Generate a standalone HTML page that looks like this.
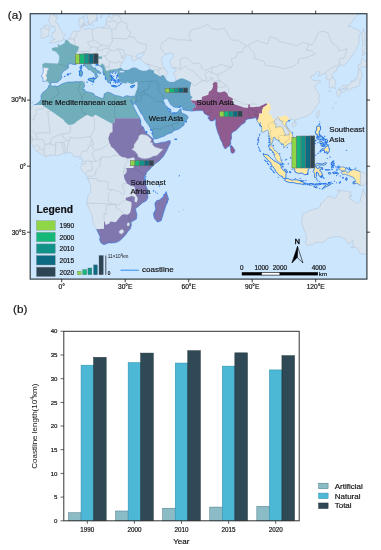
<!DOCTYPE html>
<html><head><meta charset="utf-8"><title>Coastline figure</title>
<style>html,body{margin:0;padding:0;background:#fff}svg{display:block}text{font-family:"Liberation Sans",Arial,sans-serif;fill:#111}</style></head><body>
<svg width="381" height="550" viewBox="0 0 381 550">
<rect width="381" height="550" fill="#fff"/>
<defs>
<clipPath id="fc"><rect x="30.2" y="13.7" width="336.7" height="265.40000000000003"/></clipPath>
<clipPath id="mc"><path clip-rule="evenodd" d="M72.3 -4.8L72.3 6.3L73.6 10.8L76.5 14.5L79.7 13.3L82.4 10.4L84.1 7.9L85.4 10.8L86.7 15.7L88.4 21.1L89.0 24.5L92.0 24.1L92.2 21.9L95.6 21.1L96.8 16.1L97.5 12.1L101.1 7.9L101.9 2.0L111.0 2.0L111.2 9.6L111.7 12.1L113.4 13.3L113.1 17.2L110.8 18.4L109.5 15.7L107.6 16.5L106.2 19.6L106.4 24.5L104.0 26.4L103.2 28.2L101.3 28.2L100.4 26.7L96.6 27.8L92.0 30.0L90.3 27.8L87.7 28.9L85.0 29.6L82.9 27.8L82.2 25.3L83.5 22.6L84.6 20.7L83.5 18.4L84.1 15.7L82.0 18.0L79.1 18.4L78.8 23.8L79.9 26.4L80.5 29.3L79.7 31.1L76.7 31.1L73.1 31.8L71.6 33.5L70.4 36.7L68.9 38.7L67.0 39.7L65.1 40.4L64.9 42.7L62.1 44.7L59.2 45.7L58.7 44.4L57.7 44.4L58.3 47.6L55.3 47.3L51.8 48.6L52.6 50.5L56.2 51.7L57.5 53.6L59.4 55.8L59.2 60.3L58.1 63.8L53.7 63.5L49.4 63.2L44.8 62.9L42.2 64.7L43.1 68.4L43.3 72.1L41.8 75.4L41.6 77.0L43.1 77.8L42.9 81.6L46.0 81.0L48.2 82.1L49.8 84.2L52.4 82.4L57.0 82.4L60.2 80.0L62.1 77.0L61.1 74.8L63.4 71.2L68.5 68.1L68.3 66.7L68.1 64.7L70.2 63.5L73.1 64.4L75.9 64.7L77.6 62.6L80.3 60.9L83.1 62.4L83.9 65.3L86.3 67.0L88.4 69.5L90.9 70.1L92.0 71.5L94.7 73.5L95.4 76.2L95.8 77.6L94.8 79.0L95.8 79.0L96.8 77.8L98.1 76.2L96.6 74.3L97.7 72.1L99.8 73.9L100.9 73.2L99.6 71.5L95.6 69.3L95.8 68.1L93.9 68.1L91.8 66.4L90.5 63.5L88.0 61.5L87.7 58.2L89.4 57.0L90.9 57.3L90.5 59.1L92.4 58.2L93.7 61.2L95.6 63.5L98.7 65.3L100.9 66.7L102.8 68.1L103.0 71.2L102.8 72.6L104.0 74.3L105.5 76.5L106.4 78.1L107.0 80.0L107.6 82.1L109.1 83.0L110.0 82.4L110.6 82.9L110.0 80.2L110.8 80.0L112.5 79.7L112.5 78.4L110.4 76.5L109.5 75.4L111.0 75.7L109.5 72.1L111.2 72.6L112.3 73.5L113.4 72.9L112.5 71.5L115.0 71.0L116.7 71.5L118.2 72.1L117.2 73.3L117.0 74.8L118.6 77.6L119.3 80.5L119.7 82.1L121.6 82.4L123.3 82.9L126.3 83.4L127.1 82.1L129.4 82.9L131.6 83.9L133.7 83.4L135.4 82.1L137.9 82.1L137.5 83.4L137.7 86.0L137.1 89.4L136.0 91.9L134.7 95.7L134.1 96.2L130.1 96.4L127.3 95.7L125.2 96.2L123.1 97.4L119.5 96.2L115.0 95.4L110.6 92.9L107.4 92.2L104.3 93.9L103.8 97.4L101.9 98.6L98.7 97.2L94.7 95.7L93.9 93.7L90.3 92.4L86.0 91.7L84.8 90.4L83.1 88.6L84.8 86.0L83.9 83.7L85.0 81.6L82.9 80.8L79.9 81.8L76.5 81.6L72.3 82.1L68.1 82.1L63.8 83.2L60.6 84.7L57.5 86.6L55.3 86.0L52.2 86.3L50.5 84.7L49.2 84.7L47.9 88.1L45.6 90.4L42.6 92.7L41.0 95.7L41.2 99.4L39.5 101.8L36.3 104.2L33.8 104.9L31.0 108.5L27.8 114.1L25.7 119.4L26.8 123.9L27.6 127.2L26.8 131.2L24.7 134.5L26.3 138.2L26.1 139.5L28.9 141.5L32.1 144.7L33.5 146.9L35.2 150.1L37.4 151.4L41.6 154.3L45.6 156.7L50.1 155.2L55.3 155.2L57.5 156.0L61.7 154.1L64.2 153.3L67.0 152.6L71.2 152.6L73.3 155.6L75.5 156.9L79.3 156.5L80.5 156.5L81.8 157.9L82.4 161.1L81.8 163.9L81.4 166.0L80.3 167.7L81.8 170.2L85.0 174.1L86.7 175.7L87.5 178.3L88.8 180.9L90.1 184.1L90.9 188.4L90.3 192.7L88.2 194.8L87.1 199.2L86.7 203.0L88.2 207.0L90.3 211.5L92.4 215.6L92.4 219.5L93.5 224.2L96.4 229.2L98.1 232.6L100.2 237.1L99.6 239.6L100.7 242.6L101.9 243.6L104.0 244.7L108.3 242.9L112.5 242.9L116.1 242.6L119.9 240.6L123.1 237.6L126.3 233.9L127.8 231.4L130.1 229.2L131.3 225.4L131.3 223.0L130.7 221.9L132.6 221.2L136.4 219.1L136.9 214.2L135.8 210.4L135.4 208.8L139.0 205.9L142.1 203.0L146.0 201.0L147.9 198.1L147.7 193.8L147.4 189.0L146.4 187.3L145.3 184.1L145.1 180.9L143.8 178.7L144.7 176.2L146.0 174.5L146.8 171.9L149.6 169.6L151.7 167.1L154.8 163.9L159.1 160.9L163.3 156.5L166.5 151.1L168.6 146.4L170.1 143.6L170.3 140.8L168.6 140.8L165.4 141.9L161.2 142.4L157.0 143.6L154.8 143.6L153.4 141.5L153.2 140.8L153.4 139.3L151.7 137.8L148.5 135.0L146.0 132.8L144.7 130.6L143.4 127.2L141.1 125.5L140.5 120.5L139.8 118.2L137.3 113.9L134.7 109.0L133.0 105.4L130.7 100.6L130.7 99.6L132.0 103.0L134.1 104.7L135.2 102.3L135.7 100.6L135.4 104.2L136.9 105.4L139.0 109.4L140.7 112.9L143.2 115.9L144.5 119.4L146.4 122.3L148.5 125.0L150.6 128.4L152.3 131.0L152.3 133.9L153.4 137.6L153.8 138.9L157.0 138.7L160.1 137.4L164.4 136.1L167.6 133.9L172.2 132.6L174.1 130.4L178.1 129.5L181.3 127.2L184.1 125.0L184.1 122.1L185.5 121.9L188.3 117.1L185.8 114.6L182.4 113.6L181.1 111.5L181.1 108.5L180.3 109.0L178.8 110.6L176.7 112.9L173.1 113.2L170.9 113.2L170.9 111.3L170.7 109.0L169.7 109.0L169.2 111.8L168.0 110.1L167.8 107.3L165.4 105.4L164.4 103.0L163.3 100.8L163.1 99.4L165.2 98.6L167.6 98.9L169.2 101.8L170.7 104.5L173.9 107.1L177.7 107.5L180.9 106.1L182.4 107.1L183.0 109.7L186.6 110.4L191.9 111.1L196.1 110.6L199.3 110.6L202.5 110.4L203.5 111.8L204.6 113.9L206.1 114.3L207.3 115.5L209.9 116.2L207.8 117.5L209.9 120.5L212.0 121.2L214.5 120.1L215.4 117.8L215.8 120.5L215.8 125.0L216.9 129.5L217.9 132.8L219.4 136.1L220.3 139.3L222.2 142.6L223.2 145.8L224.7 148.4L225.9 148.8L227.2 147.1L228.9 146.2L230.8 144.1L230.6 140.8L231.7 138.0L231.3 133.9L232.8 132.1L235.9 130.4L238.5 127.9L241.6 124.6L244.8 122.8L245.9 119.8L248.0 118.9L250.1 118.7L253.3 118.2L256.0 117.5L257.1 121.0L258.6 123.2L260.7 125.5L261.8 128.4L261.3 131.7L263.7 132.1L265.4 131.0L267.5 129.9L268.5 131.7L268.7 133.9L269.6 137.2L270.4 140.4L270.4 144.7L269.8 146.9L269.8 149.0L271.7 150.7L273.6 152.4L274.2 154.6L275.1 157.5L276.4 160.1L278.7 161.8L280.8 163.1L282.3 163.0L280.8 160.3L280.6 157.5L278.7 153.7L277.8 152.8L276.6 151.4L274.5 150.5L273.4 147.9L271.9 146.2L271.7 143.6L273.0 140.8L273.4 137.4L275.3 137.6L275.3 139.1L278.1 140.0L279.5 141.3L280.8 143.4L282.9 143.9L284.0 144.9L283.6 147.7L285.0 146.9L287.8 144.1L289.3 143.6L292.5 141.7L293.1 138.7L292.9 136.1L292.0 133.0L290.3 131.0L288.2 129.0L287.2 127.2L285.7 125.0L286.1 122.8L287.8 121.0L290.3 119.4L292.5 119.1L293.9 119.6L294.6 122.1L295.6 122.1L295.6 119.8L298.2 119.1L302.0 117.8L303.7 117.3L306.2 116.6L309.4 114.8L312.6 112.0L314.7 109.4L315.7 106.6L318.5 103.5L319.8 100.3L317.9 97.9L319.8 96.9L319.6 95.2L316.8 90.7L314.3 87.1L316.4 84.2L321.0 81.6L318.9 80.2L313.6 80.8L311.5 78.4L310.9 76.2L313.6 75.4L317.9 71.2L320.0 72.1L318.3 76.2L323.1 74.0L324.8 73.5L327.0 75.1L325.9 78.4L328.0 79.4L329.7 80.5L329.1 82.9L329.5 85.5L329.1 87.8L331.6 87.8L334.4 86.8L335.6 84.7L335.6 81.6L333.9 78.4L331.6 74.8L333.7 72.6L336.3 70.7L336.9 67.8L338.4 66.7L341.1 64.4L343.7 65.6L348.6 60.6L352.8 54.5L356.0 49.9L359.1 43.4L358.9 36.7L360.8 32.5L358.1 29.6L353.8 28.6L351.3 26.0L347.9 26.7L352.8 20.3L358.1 14.5L363.4 9.2L370.8 6.3L370.8 -7.1L72.3 -7.1ZM123.3 70.1L128.2 70.1L132.2 67.8L136.0 67.8L139.0 69.8L143.2 71.0L146.4 70.7L149.6 69.3L149.8 67.3L148.5 65.0L145.7 63.5L142.1 60.9L140.7 59.1L139.2 58.5L136.9 59.1L134.7 60.6L132.6 60.6L131.6 58.2L132.8 56.4L129.4 55.5L127.3 54.2L125.6 56.4L124.6 58.5L122.5 62.1L121.0 64.1L120.3 66.4L121.0 68.1ZM139.2 57.9L135.8 57.3L136.4 55.2L140.0 53.3L143.2 52.7L144.7 53.0L142.1 56.1L141.1 57.6ZM118.9 72.1L120.1 70.7L122.9 70.7L124.8 71.5L123.1 72.4L120.6 72.5ZM161.2 59.1L162.3 62.1L162.3 65.0L164.4 67.8L166.1 70.7L168.2 72.4L166.5 74.8L165.2 77.6L166.5 80.2L169.7 82.1L173.9 82.1L176.0 80.8L175.6 77.6L173.9 74.8L173.9 72.1L176.4 70.7L175.0 67.8L172.8 68.4L170.7 65.0L169.7 60.6L172.8 57.9L173.9 54.5L171.8 53.0L167.6 53.6L165.4 54.5L163.3 56.1Z"/></clipPath>
<clipPath id="rcM"><path d="M49.6 83.4L51.1 76.2L61.7 66.4L67.0 60.6L78.6 57.6L91.3 54.5L104.0 65.0L108.3 69.3L116.8 71.5L115.9 73.5L114.6 78.9L117.8 84.2L117.8 88.1L104.0 88.1L89.2 85.5L78.6 78.9L70.2 77.6L61.7 81.6L56.4 84.2L52.2 84.5L49.8 84.3ZM33.8 105.0L43.3 105.0L43.3 105.9L51.5 111.3L64.2 120.3L64.2 121.2L68.7 125.0L70.6 124.8L74.0 124.1L77.6 120.7L87.1 114.8L91.8 116.9L93.5 115.9L95.6 114.8L112.5 123.9L112.5 122.8L114.6 122.8L114.6 118.2L139.8 118.2L141.1 115.9L136.9 107.8L134.5 104.9L135.6 100.6L134.2 96.2L133.7 93.2L114.6 89.4L87.1 86.8L86.0 79.4L72.3 79.4L57.5 84.5L49.8 84.4L46.9 84.7L38.4 94.4L32.1 103.0ZM39.5 67.8L44.8 67.8L44.8 80.0L46.0 81.6L46.0 84.2L39.5 84.2Z"/></clipPath>
<clipPath id="rcW"><path d="M134.2 96.2L139.0 96.9L146.4 101.8L159.1 95.7L164.4 97.9L171.8 100.6L184.5 104.7L192.1 110.8L192.1 113.6L189.8 117.1L186.6 127.2L178.1 133.9L171.8 137.2L157.0 140.8L153.6 139.2L149.6 132.8L145.3 125.0L141.7 117.1L137.5 109.0L134.9 104.7L135.7 100.6Z"/></clipPath>
<clipPath id="rcS"><path d="M192.1 110.8L193.6 108.0L195.5 107.5L195.7 106.4L194.6 103.7L192.5 102.8L190.6 99.9L194.0 100.8L197.2 100.6L202.1 99.6L201.8 96.9L204.6 95.9L208.4 94.7L208.8 91.7L210.5 90.9L212.2 89.1L213.3 85.5L212.4 83.9L214.8 82.1L217.3 82.6L217.5 86.8L217.1 91.2L219.0 92.4L221.1 92.2L224.5 91.2L227.2 93.2L228.3 96.2L231.5 97.7L233.2 98.9L231.3 102.3L234.2 104.2L238.0 105.6L241.0 106.4L243.8 107.5L248.2 108.0L248.2 104.5L249.7 104.2L249.9 105.9L249.7 106.8L251.8 107.3L254.3 107.1L256.7 106.8L259.2 106.8L261.3 105.4L263.9 104.5L265.4 103.5L266.8 103.5L267.3 104.7L265.4 105.9L263.2 107.5L262.0 110.8L262.2 113.6L259.4 113.6L259.0 115.9L258.6 118.2L257.7 119.8L257.1 121.0L255.4 122.8L248.0 125.0L235.3 140.4L230.0 145.8L229.6 147.3L225.8 151.1L214.1 140.4L210.9 125.0L201.4 117.1L192.1 113.6Z"/></clipPath>
<clipPath id="rcY"><path d="M257.1 121.0L257.7 119.8L258.6 118.2L259.0 115.9L259.4 113.6L262.2 113.6L262.0 110.8L263.2 107.5L265.4 105.9L267.3 104.7L266.8 103.5L268.7 103.0L270.6 105.2L270.6 109.4L268.3 111.8L268.5 113.9L271.1 115.5L272.3 116.2L271.7 118.0L273.8 119.4L275.7 118.9L277.2 120.1L277.0 117.3L278.1 117.3L278.7 116.6L281.7 116.9L284.6 115.3L287.6 116.2L287.4 118.2L290.3 119.4L291.0 121.6L290.3 126.1L296.7 136.1L294.6 146.9L284.0 153.3L283.1 163.2L280.8 163.7L273.4 159.6L268.1 151.1L264.9 140.4L259.6 132.8L256.5 123.9Z"/></clipPath>
<clipPath id="rcP"><path d="M139.8 118.2L114.6 118.2L114.6 122.8L112.5 122.8L112.5 123.9L112.5 132.3L110.2 132.8L108.3 138.2L109.3 142.6L111.4 146.9L113.6 148.6L117.8 153.3L119.7 155.4L122.0 156.9L125.2 157.5L127.1 158.6L129.4 158.4L133.5 157.3L133.7 157.1L134.7 159.6L135.8 162.4L133.7 165.6L133.5 168.1L126.3 168.1L126.9 171.1L126.1 173.0L123.9 175.3L124.4 178.7L126.9 183.6L131.3 186.0L133.5 186.2L134.7 187.3L134.9 190.5L134.5 192.0L135.6 194.8L137.7 197.9L137.5 200.3L136.4 202.8L134.3 201.0L134.9 198.8L134.5 196.8L131.6 195.9L125.6 198.1L126.1 200.3L131.3 201.9L131.6 204.8L130.9 209.2L130.3 212.2L128.0 214.7L123.9 214.2L121.6 215.1L118.4 219.1L115.7 222.3L110.4 221.4L109.3 223.5L105.7 224.9L104.0 220.2L104.0 228.8L96.6 229.2L93.5 232.6L97.7 246.5L116.7 246.5L133.7 227.8L139.0 218.4L149.6 202.5L150.6 187.3L149.6 174.5L161.2 164.9L172.8 144.7L172.8 139.3L161.2 140.6L154.0 140.0L153.5 139.1L149.6 132.8L145.3 125.0L141.7 117.1Z"/></clipPath>
<clipPath id="ngc"><rect x="0" y="0" width="360.2" height="550"/></clipPath>
</defs>
<rect x="30.2" y="13.7" width="336.7" height="265.40000000000003" fill="#cce6fe"/>
<g clip-path="url(#fc)">
<path id="ml" fill-rule="evenodd" d="M72.3 -4.8L72.3 6.3L73.6 10.8L76.5 14.5L79.7 13.3L82.4 10.4L84.1 7.9L85.4 10.8L86.7 15.7L88.4 21.1L89.0 24.5L92.0 24.1L92.2 21.9L95.6 21.1L96.8 16.1L97.5 12.1L101.1 7.9L101.9 2.0L111.0 2.0L111.2 9.6L111.7 12.1L113.4 13.3L113.1 17.2L110.8 18.4L109.5 15.7L107.6 16.5L106.2 19.6L106.4 24.5L104.0 26.4L103.2 28.2L101.3 28.2L100.4 26.7L96.6 27.8L92.0 30.0L90.3 27.8L87.7 28.9L85.0 29.6L82.9 27.8L82.2 25.3L83.5 22.6L84.6 20.7L83.5 18.4L84.1 15.7L82.0 18.0L79.1 18.4L78.8 23.8L79.9 26.4L80.5 29.3L79.7 31.1L76.7 31.1L73.1 31.8L71.6 33.5L70.4 36.7L68.9 38.7L67.0 39.7L65.1 40.4L64.9 42.7L62.1 44.7L59.2 45.7L58.7 44.4L57.7 44.4L58.3 47.6L55.3 47.3L51.8 48.6L52.6 50.5L56.2 51.7L57.5 53.6L59.4 55.8L59.2 60.3L58.1 63.8L53.7 63.5L49.4 63.2L44.8 62.9L42.2 64.7L43.1 68.4L43.3 72.1L41.8 75.4L41.6 77.0L43.1 77.8L42.9 81.6L46.0 81.0L48.2 82.1L49.8 84.2L52.4 82.4L57.0 82.4L60.2 80.0L62.1 77.0L61.1 74.8L63.4 71.2L68.5 68.1L68.3 66.7L68.1 64.7L70.2 63.5L73.1 64.4L75.9 64.7L77.6 62.6L80.3 60.9L83.1 62.4L83.9 65.3L86.3 67.0L88.4 69.5L90.9 70.1L92.0 71.5L94.7 73.5L95.4 76.2L95.8 77.6L94.8 79.0L95.8 79.0L96.8 77.8L98.1 76.2L96.6 74.3L97.7 72.1L99.8 73.9L100.9 73.2L99.6 71.5L95.6 69.3L95.8 68.1L93.9 68.1L91.8 66.4L90.5 63.5L88.0 61.5L87.7 58.2L89.4 57.0L90.9 57.3L90.5 59.1L92.4 58.2L93.7 61.2L95.6 63.5L98.7 65.3L100.9 66.7L102.8 68.1L103.0 71.2L102.8 72.6L104.0 74.3L105.5 76.5L106.4 78.1L107.0 80.0L107.6 82.1L109.1 83.0L110.0 82.4L110.6 82.9L110.0 80.2L110.8 80.0L112.5 79.7L112.5 78.4L110.4 76.5L109.5 75.4L111.0 75.7L109.5 72.1L111.2 72.6L112.3 73.5L113.4 72.9L112.5 71.5L115.0 71.0L116.7 71.5L118.2 72.1L117.2 73.3L117.0 74.8L118.6 77.6L119.3 80.5L119.7 82.1L121.6 82.4L123.3 82.9L126.3 83.4L127.1 82.1L129.4 82.9L131.6 83.9L133.7 83.4L135.4 82.1L137.9 82.1L137.5 83.4L137.7 86.0L137.1 89.4L136.0 91.9L134.7 95.7L134.1 96.2L130.1 96.4L127.3 95.7L125.2 96.2L123.1 97.4L119.5 96.2L115.0 95.4L110.6 92.9L107.4 92.2L104.3 93.9L103.8 97.4L101.9 98.6L98.7 97.2L94.7 95.7L93.9 93.7L90.3 92.4L86.0 91.7L84.8 90.4L83.1 88.6L84.8 86.0L83.9 83.7L85.0 81.6L82.9 80.8L79.9 81.8L76.5 81.6L72.3 82.1L68.1 82.1L63.8 83.2L60.6 84.7L57.5 86.6L55.3 86.0L52.2 86.3L50.5 84.7L49.2 84.7L47.9 88.1L45.6 90.4L42.6 92.7L41.0 95.7L41.2 99.4L39.5 101.8L36.3 104.2L33.8 104.9L31.0 108.5L27.8 114.1L25.7 119.4L26.8 123.9L27.6 127.2L26.8 131.2L24.7 134.5L26.3 138.2L26.1 139.5L28.9 141.5L32.1 144.7L33.5 146.9L35.2 150.1L37.4 151.4L41.6 154.3L45.6 156.7L50.1 155.2L55.3 155.2L57.5 156.0L61.7 154.1L64.2 153.3L67.0 152.6L71.2 152.6L73.3 155.6L75.5 156.9L79.3 156.5L80.5 156.5L81.8 157.9L82.4 161.1L81.8 163.9L81.4 166.0L80.3 167.7L81.8 170.2L85.0 174.1L86.7 175.7L87.5 178.3L88.8 180.9L90.1 184.1L90.9 188.4L90.3 192.7L88.2 194.8L87.1 199.2L86.7 203.0L88.2 207.0L90.3 211.5L92.4 215.6L92.4 219.5L93.5 224.2L96.4 229.2L98.1 232.6L100.2 237.1L99.6 239.6L100.7 242.6L101.9 243.6L104.0 244.7L108.3 242.9L112.5 242.9L116.1 242.6L119.9 240.6L123.1 237.6L126.3 233.9L127.8 231.4L130.1 229.2L131.3 225.4L131.3 223.0L130.7 221.9L132.6 221.2L136.4 219.1L136.9 214.2L135.8 210.4L135.4 208.8L139.0 205.9L142.1 203.0L146.0 201.0L147.9 198.1L147.7 193.8L147.4 189.0L146.4 187.3L145.3 184.1L145.1 180.9L143.8 178.7L144.7 176.2L146.0 174.5L146.8 171.9L149.6 169.6L151.7 167.1L154.8 163.9L159.1 160.9L163.3 156.5L166.5 151.1L168.6 146.4L170.1 143.6L170.3 140.8L168.6 140.8L165.4 141.9L161.2 142.4L157.0 143.6L154.8 143.6L153.4 141.5L153.2 140.8L153.4 139.3L151.7 137.8L148.5 135.0L146.0 132.8L144.7 130.6L143.4 127.2L141.1 125.5L140.5 120.5L139.8 118.2L137.3 113.9L134.7 109.0L133.0 105.4L130.7 100.6L130.7 99.6L132.0 103.0L134.1 104.7L135.2 102.3L135.7 100.6L135.4 104.2L136.9 105.4L139.0 109.4L140.7 112.9L143.2 115.9L144.5 119.4L146.4 122.3L148.5 125.0L150.6 128.4L152.3 131.0L152.3 133.9L153.4 137.6L153.8 138.9L157.0 138.7L160.1 137.4L164.4 136.1L167.6 133.9L172.2 132.6L174.1 130.4L178.1 129.5L181.3 127.2L184.1 125.0L184.1 122.1L185.5 121.9L188.3 117.1L185.8 114.6L182.4 113.6L181.1 111.5L181.1 108.5L180.3 109.0L178.8 110.6L176.7 112.9L173.1 113.2L170.9 113.2L170.9 111.3L170.7 109.0L169.7 109.0L169.2 111.8L168.0 110.1L167.8 107.3L165.4 105.4L164.4 103.0L163.3 100.8L163.1 99.4L165.2 98.6L167.6 98.9L169.2 101.8L170.7 104.5L173.9 107.1L177.7 107.5L180.9 106.1L182.4 107.1L183.0 109.7L186.6 110.4L191.9 111.1L196.1 110.6L199.3 110.6L202.5 110.4L203.5 111.8L204.6 113.9L206.1 114.3L207.3 115.5L209.9 116.2L207.8 117.5L209.9 120.5L212.0 121.2L214.5 120.1L215.4 117.8L215.8 120.5L215.8 125.0L216.9 129.5L217.9 132.8L219.4 136.1L220.3 139.3L222.2 142.6L223.2 145.8L224.7 148.4L225.9 148.8L227.2 147.1L228.9 146.2L230.8 144.1L230.6 140.8L231.7 138.0L231.3 133.9L232.8 132.1L235.9 130.4L238.5 127.9L241.6 124.6L244.8 122.8L245.9 119.8L248.0 118.9L250.1 118.7L253.3 118.2L256.0 117.5L257.1 121.0L258.6 123.2L260.7 125.5L261.8 128.4L261.3 131.7L263.7 132.1L265.4 131.0L267.5 129.9L268.5 131.7L268.7 133.9L269.6 137.2L270.4 140.4L270.4 144.7L269.8 146.9L269.8 149.0L271.7 150.7L273.6 152.4L274.2 154.6L275.1 157.5L276.4 160.1L278.7 161.8L280.8 163.1L282.3 163.0L280.8 160.3L280.6 157.5L278.7 153.7L277.8 152.8L276.6 151.4L274.5 150.5L273.4 147.9L271.9 146.2L271.7 143.6L273.0 140.8L273.4 137.4L275.3 137.6L275.3 139.1L278.1 140.0L279.5 141.3L280.8 143.4L282.9 143.9L284.0 144.9L283.6 147.7L285.0 146.9L287.8 144.1L289.3 143.6L292.5 141.7L293.1 138.7L292.9 136.1L292.0 133.0L290.3 131.0L288.2 129.0L287.2 127.2L285.7 125.0L286.1 122.8L287.8 121.0L290.3 119.4L292.5 119.1L293.9 119.6L294.6 122.1L295.6 122.1L295.6 119.8L298.2 119.1L302.0 117.8L303.7 117.3L306.2 116.6L309.4 114.8L312.6 112.0L314.7 109.4L315.7 106.6L318.5 103.5L319.8 100.3L317.9 97.9L319.8 96.9L319.6 95.2L316.8 90.7L314.3 87.1L316.4 84.2L321.0 81.6L318.9 80.2L313.6 80.8L311.5 78.4L310.9 76.2L313.6 75.4L317.9 71.2L320.0 72.1L318.3 76.2L323.1 74.0L324.8 73.5L327.0 75.1L325.9 78.4L328.0 79.4L329.7 80.5L329.1 82.9L329.5 85.5L329.1 87.8L331.6 87.8L334.4 86.8L335.6 84.7L335.6 81.6L333.9 78.4L331.6 74.8L333.7 72.6L336.3 70.7L336.9 67.8L338.4 66.7L341.1 64.4L343.7 65.6L348.6 60.6L352.8 54.5L356.0 49.9L359.1 43.4L358.9 36.7L360.8 32.5L358.1 29.6L353.8 28.6L351.3 26.0L347.9 26.7L352.8 20.3L358.1 14.5L363.4 9.2L370.8 6.3L370.8 -7.1L72.3 -7.1ZM123.3 70.1L128.2 70.1L132.2 67.8L136.0 67.8L139.0 69.8L143.2 71.0L146.4 70.7L149.6 69.3L149.8 67.3L148.5 65.0L145.7 63.5L142.1 60.9L140.7 59.1L139.2 58.5L136.9 59.1L134.7 60.6L132.6 60.6L131.6 58.2L132.8 56.4L129.4 55.5L127.3 54.2L125.6 56.4L124.6 58.5L122.5 62.1L121.0 64.1L120.3 66.4L121.0 68.1ZM139.2 57.9L135.8 57.3L136.4 55.2L140.0 53.3L143.2 52.7L144.7 53.0L142.1 56.1L141.1 57.6ZM118.9 72.1L120.1 70.7L122.9 70.7L124.8 71.5L123.1 72.4L120.6 72.5ZM161.2 59.1L162.3 62.1L162.3 65.0L164.4 67.8L166.1 70.7L168.2 72.4L166.5 74.8L165.2 77.6L166.5 80.2L169.7 82.1L173.9 82.1L176.0 80.8L175.6 77.6L173.9 74.8L173.9 72.1L176.4 70.7L175.0 67.8L172.8 68.4L170.7 65.0L169.7 60.6L172.8 57.9L173.9 54.5L171.8 53.0L167.6 53.6L165.4 54.5L163.3 56.1Z" fill="#d7e3ee" stroke="#a9b9c9" stroke-width="0.4" stroke-linejoin="round"/>
<path d="M49.6 43.1L54.3 42.7L59.6 41.1L64.7 39.4L62.8 38.4L65.3 34.6L62.3 33.2L61.5 31.1L59.2 27.5L58.3 24.1L55.6 22.3L57.5 15.7L53.7 16.1L55.1 12.1L51.1 12.1L49.4 18.4L48.6 21.1L50.7 24.5L51.5 26.7L54.5 26.4L55.3 30.4L55.1 32.1L52.2 32.1L52.8 34.6L50.7 37.4L54.3 38.7L55.3 39.4L52.2 40.1ZM49.0 36.0L49.0 31.4L50.1 27.8L48.4 25.3L44.3 25.3L43.7 27.8L40.5 28.9L41.0 32.1L42.2 33.9L39.9 36.7L41.6 38.4L44.8 37.4L47.9 36.3ZM85.0 23.4L88.2 21.9L88.4 24.1L87.5 26.0L85.4 25.3ZM82.4 24.1L84.4 24.1L84.6 25.6L82.9 25.6ZM100.2 18.4L101.7 14.9L102.3 15.3L101.3 17.6ZM96.4 21.5L97.7 17.2L97.9 17.2L96.8 21.1ZM108.1 13.3L110.4 12.1L110.8 12.9L108.7 14.5ZM339.0 167.7L342.2 166.8L345.4 167.7L345.8 171.3L347.5 173.0L350.7 170.7L353.8 169.4L360.2 171.5L367.6 174.3L370.8 176.6L372.9 180.9L370.8 184.1L365.5 183.4L364.4 185.6L360.2 185.3L357.0 183.2L353.8 183.8L355.8 181.3L353.8 177.7L348.6 175.3L344.3 174.1L342.8 174.7L341.1 172.1L345.0 171.1L341.8 170.7L339.0 169.0ZM291.8 124.3L293.7 122.8L296.5 122.8L295.6 125.5L293.7 126.8L291.8 126.1ZM316.0 115.9L317.9 111.3L319.1 110.6L319.8 111.5L318.7 115.7L317.4 118.5L316.4 117.1ZM336.3 91.2L338.8 89.6L340.5 90.4L340.9 92.4L339.7 95.9L338.4 96.9L337.3 96.2L337.3 93.9L336.5 92.7ZM341.4 91.2L343.3 89.4L346.6 88.9L346.9 89.9L345.8 91.2L343.3 92.5L342.2 92.2ZM338.8 89.4L342.2 85.8L347.5 85.3L349.6 84.7L351.3 81.6L352.4 80.2L351.7 81.8L354.9 80.8L357.0 78.4L358.1 74.0L358.1 71.8L358.7 70.1L361.0 69.5L361.3 72.1L362.3 74.6L361.3 78.1L360.2 78.4L360.0 81.8L359.4 85.0L357.9 86.8L357.4 86.0L356.0 86.6L355.5 87.7L354.3 87.8L352.2 87.8L351.5 88.6L350.2 89.6L349.2 90.7L347.7 89.6L348.1 87.8L345.4 87.8L342.2 88.6L340.5 89.4ZM358.1 69.3L358.7 64.4L361.0 64.1L361.7 57.9L364.4 60.6L367.2 62.1L369.5 61.2L369.7 64.1L366.5 65.3L365.1 67.8L361.9 66.1L360.0 68.4ZM362.3 56.1L362.3 51.4L362.3 46.7L362.7 40.1L361.7 35.6L363.4 28.6L364.9 33.2L365.1 38.4L364.9 45.7L367.6 46.7L364.4 49.9L364.4 53.6L365.5 53.6L364.0 54.2ZM328.9 90.9L330.3 90.5L330.1 91.2L329.1 91.4ZM335.2 87.8L335.7 88.1L335.4 89.0ZM332.0 108.7L333.1 107.1L333.3 107.3L332.4 108.6ZM335.4 103.2L336.3 103.0L335.6 103.7ZM354.4 78.1L354.9 78.6L354.7 79.3ZM178.8 211.3L179.8 211.7L179.2 212.3ZM183.1 209.5L184.0 209.7L183.4 210.4ZM79.7 158.2L80.5 158.4L80.1 159.1ZM75.5 165.3L76.0 165.5L75.6 165.9ZM32.1 102.5L33.1 101.3L32.3 103.7ZM28.3 104.2L29.1 104.0L28.9 104.8ZM25.9 103.5L27.4 102.9L26.8 104.2ZM92.8 25.3L93.7 25.4L93.5 26.0ZM303.2 213.3L302.2 217.2L301.6 223.0L303.2 227.3L305.2 232.6L306.6 237.6L305.2 243.4L308.3 245.2L312.6 244.7L315.7 242.4L323.1 242.4L328.4 238.3L334.8 236.6L339.5 236.3L345.4 239.3L348.6 244.4L352.8 240.1L353.4 246.5L357.0 247.8L360.2 253.6L366.5 254.4L375.0 255.8L379.2 232.6L375.0 204.8L369.7 198.1L365.5 195.9L363.4 188.8L361.5 194.8L360.2 201.4L357.0 203.6L352.8 200.3L349.2 198.1L351.3 192.0L347.5 191.6L342.2 190.3L339.0 192.2L336.9 194.8L335.9 198.1L332.7 198.1L330.6 195.9L327.4 197.0L324.2 201.0L320.6 203.6L320.4 205.9L317.9 208.6L313.6 209.2L309.4 210.8L306.2 212.6ZM337.3 190.3L339.7 190.1L339.9 190.7L338.0 191.2ZM350.9 247.3L353.6 247.1L352.8 247.9L351.1 247.8ZM350.5 195.5L351.5 195.5L351.3 196.5L350.5 196.4Z" fill="#d7e3ee" stroke="#a9b9c9" stroke-width="0.4" stroke-linejoin="round"/>
<g clip-path="url(#mc)"><path d="M67.0 39.7L70.6 43.4L74.0 45.0L79.1 46.7L77.8 51.1L74.6 55.5L76.5 56.4L79.5 54.8L83.7 53.6L87.5 53.0L90.7 54.5L96.2 53.6L96.8 54.8L98.7 56.4L101.7 56.4L102.1 58.8L99.8 58.8L97.5 58.5L95.1 58.5L95.1 60.0L96.0 61.5L97.7 63.5L99.0 65.0L100.7 66.1L101.3 64.4L102.3 63.5L104.7 65.6L104.3 66.4L105.3 68.1L106.2 71.0L110.2 69.8L113.6 69.3L117.4 68.7L118.0 69.8L116.8 71.5L115.9 73.5L114.6 78.9L117.8 84.2L117.8 88.1L104.0 88.1L100.9 77.6L89.2 85.5L78.6 78.9L70.2 77.6L61.7 81.6L56.4 84.2L52.2 84.5L49.8 84.3L46.9 83.4L46.0 81.0L45.8 80.2L46.9 78.4L45.8 74.6L46.9 74.3L47.1 72.9L47.1 70.7L48.6 69.0L47.7 68.1L44.3 67.8L43.1 68.1L40.5 67.8L40.5 60.6L49.0 53.0L49.0 46.7L57.5 42.7L64.9 39.4ZM33.8 105.0L43.3 105.0L43.3 105.9L51.5 111.3L64.2 120.3L64.2 121.2L68.7 125.0L70.6 124.8L74.0 124.1L77.6 120.7L87.1 114.8L91.8 116.9L93.5 115.9L95.6 114.8L112.5 123.9L112.5 122.8L114.6 122.8L114.6 118.2L139.8 118.2L141.1 115.9L136.9 107.8L134.5 104.9L135.6 100.6L134.2 96.2L133.7 93.2L114.6 89.4L87.1 86.8L86.0 79.4L72.3 79.4L57.5 84.5L49.8 84.4L46.9 84.7L38.4 94.4L32.1 103.0Z" fill="#70aebb"/></g>
<g clip-path="url(#mc)"><path d="M116.8 71.5L118.0 69.8L117.4 68.7L121.0 67.8L125.2 66.4L137.9 65.0L148.5 67.8L149.7 69.3L153.8 70.4L154.2 73.2L156.5 74.3L160.1 76.5L163.3 74.8L165.2 77.8L167.6 77.6L173.9 78.9L175.8 80.8L180.3 78.6L183.0 78.4L187.2 80.2L191.3 82.6L189.8 89.4L190.6 95.7L192.5 96.9L190.6 99.9L192.5 102.8L194.6 103.7L195.7 106.4L195.5 107.5L193.6 108.0L192.1 110.8L192.1 113.6L189.8 117.1L186.6 127.2L178.1 133.9L171.8 137.2L157.0 140.8L153.6 139.2L149.6 132.8L145.3 125.0L141.7 117.1L137.5 109.0L134.9 104.7L135.7 100.6L134.2 96.2L133.7 93.2L136.2 84.7L131.6 84.6L125.2 84.7L122.0 83.7L118.9 82.8L118.6 80.2L116.7 77.6L116.5 74.6L116.5 72.9Z" fill="#64a3c4"/></g>
<g clip-path="url(#mc)"><path d="M192.1 110.8L193.6 108.0L195.5 107.5L195.7 106.4L194.6 103.7L192.5 102.8L190.6 99.9L194.0 100.8L197.2 100.6L202.1 99.6L201.8 96.9L204.6 95.9L208.4 94.7L208.8 91.7L210.5 90.9L212.2 89.1L213.3 85.5L212.4 83.9L214.8 82.1L217.3 82.6L217.5 86.8L217.1 91.2L219.0 92.4L221.1 92.2L224.5 91.2L227.2 93.2L228.3 96.2L231.5 97.7L233.2 98.9L231.3 102.3L234.2 104.2L238.0 105.6L241.0 106.4L243.8 107.5L248.2 108.0L248.2 104.5L249.7 104.2L249.9 105.9L249.7 106.8L251.8 107.3L254.3 107.1L256.7 106.8L259.2 106.8L261.3 105.4L263.9 104.5L265.4 103.5L266.8 103.5L267.3 104.7L265.4 105.9L263.2 107.5L262.0 110.8L262.2 113.6L259.4 113.6L259.0 115.9L258.6 118.2L257.7 119.8L257.1 121.0L255.4 122.8L248.0 125.0L235.3 140.4L230.0 145.8L229.6 147.3L225.8 151.1L214.1 140.4L210.9 125.0L201.4 117.1L192.1 113.6Z" fill="#905b8e"/></g>
<g clip-path="url(#mc)"><path d="M257.1 121.0L257.7 119.8L258.6 118.2L259.0 115.9L259.4 113.6L262.2 113.6L262.0 110.8L263.2 107.5L265.4 105.9L267.3 104.7L266.8 103.5L268.7 103.0L270.6 105.2L270.6 109.4L268.3 111.8L268.5 113.9L271.1 115.5L272.3 116.2L271.7 118.0L273.8 119.4L275.7 118.9L277.2 120.1L277.0 117.3L278.1 117.3L278.7 116.6L281.7 116.9L284.6 115.3L287.6 116.2L287.4 118.2L290.3 119.4L291.0 121.6L290.3 126.1L296.7 136.1L294.6 146.9L284.0 153.3L283.1 163.2L280.8 163.7L273.4 159.6L268.1 151.1L264.9 140.4L259.6 132.8L256.5 123.9Z" fill="#fee8a2"/></g>
<g clip-path="url(#mc)"><path d="M139.8 118.2L114.6 118.2L114.6 122.8L112.5 122.8L112.5 123.9L112.5 132.3L110.2 132.8L108.3 138.2L109.3 142.6L111.4 146.9L113.6 148.6L117.8 153.3L119.7 155.4L122.0 156.9L125.2 157.5L127.1 158.6L129.4 158.4L133.5 157.3L133.7 157.1L134.7 159.6L135.8 162.4L133.7 165.6L133.5 168.1L126.3 168.1L126.9 171.1L126.1 173.0L123.9 175.3L124.4 178.7L126.9 183.6L131.3 186.0L133.5 186.2L134.7 187.3L134.9 190.5L134.5 192.0L135.6 194.8L137.7 197.9L137.5 200.3L136.4 202.8L134.3 201.0L134.9 198.8L134.5 196.8L131.6 195.9L125.6 198.1L126.1 200.3L131.3 201.9L131.6 204.8L130.9 209.2L130.3 212.2L128.0 214.7L123.9 214.2L121.6 215.1L118.4 219.1L115.7 222.3L110.4 221.4L109.3 223.5L105.7 224.9L104.0 220.2L104.0 228.8L96.6 229.2L93.5 232.6L97.7 246.5L116.7 246.5L133.7 227.8L139.0 218.4L149.6 202.5L150.6 187.3L149.6 174.5L161.2 164.9L172.8 144.7L172.8 139.3L161.2 140.6L154.0 140.0L153.5 139.1L149.6 132.8L145.3 125.0L141.7 117.1Z" fill="#8077af"/></g>
<g clip-path="url(#mc)"><path d="M43.1 68.1L44.3 67.8L47.7 68.1L48.6 69.0L47.1 70.7L47.1 72.9L46.9 74.3L45.8 74.6L46.9 78.4L45.8 80.2L46.0 81.0L46.0 84.2L39.5 84.2L39.5 67.8Z" fill="#e7edf3"/></g>
<path d="M273.6 122.0L274.7 123.9L276.2 123.9L275.5 127.7L277.8 126.8L280.6 126.4L283.3 128.6L283.6 131.2L285.0 133.0L285.3 135.2L284.4 135.4L286.1 135.2L289.3 134.5L289.1 131.9L287.4 129.5L284.4 125.7L282.1 123.4L283.1 121.4L280.0 120.7L279.5 118.9L278.1 117.3L277.0 117.3L277.2 120.1L275.7 118.9ZM139.0 135.4L141.9 134.3L144.3 134.8L146.8 135.2L149.6 137.6L151.5 139.5L150.2 142.6L152.3 142.6L152.5 142.7L152.5 144.7L154.8 146.9L161.2 149.0L163.3 149.0L157.0 155.4L152.7 156.3L150.4 157.7L145.3 158.8L142.4 158.4L137.9 156.7L137.7 154.8L135.6 151.8L131.6 149.2L133.9 147.9L134.1 144.7L136.2 141.5L138.1 138.9ZM118.9 231.7L120.3 230.0L122.5 229.2L123.9 231.2L123.5 232.6L121.4 234.1L119.7 233.4ZM126.9 224.7L127.5 222.8L129.2 222.6L129.7 224.2L129.2 226.1L127.3 225.9Z" fill="#d7e3ee" stroke="#a9b9c9" stroke-width="0.35"/>
<path d="M217.3 82.6L220.3 81.0L222.4 82.6L226.4 85.5L228.9 88.6L228.7 92.2L227.2 93.2M217.5 86.8L219.0 87.3L224.5 86.8L226.4 85.5M43.1 68.1L44.3 67.8L47.7 68.1L48.6 69.0L47.1 70.7L47.1 72.9L46.9 74.3L45.8 74.6L46.9 78.4L45.8 80.2L46.0 81.0M46.0 29.3L48.4 29.3L49.0 29.6M46.0 26.0L44.6 27.8L46.0 29.3M68.9 38.9L72.3 38.7L74.4 40.1L74.4 37.4L76.5 35.6L76.9 32.1M74.4 40.1L74.6 43.1L75.2 45.0L74.0 45.0M79.9 26.4L82.7 26.7M92.0 30.0L92.6 36.7L93.5 40.1L87.3 42.4L90.9 47.3L89.2 51.4L83.7 51.4L82.0 51.4L77.8 51.1M82.0 51.4L83.7 53.6M90.9 47.3L93.5 46.7L97.5 47.9L97.9 49.9L95.8 53.3L96.2 53.6M93.5 40.1L97.5 42.4L101.5 45.0L109.5 46.3M97.5 47.9L101.5 45.0M97.9 49.9L101.5 50.5L105.1 48.3L108.7 48.6L110.2 49.9L106.2 55.5L104.7 55.8L101.7 56.4M104.7 55.8L107.0 59.7L109.8 61.5L109.1 65.0L109.1 67.0L110.2 69.8M109.8 61.5L115.7 63.2L118.9 61.8L122.2 62.9M104.7 65.6L107.2 67.0L109.1 67.0M105.3 68.1L107.2 67.0M110.2 49.9L114.4 50.8L118.0 48.9L121.4 54.5L121.4 57.6L124.6 58.5M118.0 48.9L123.3 49.9L125.4 54.8L121.4 57.6M103.2 28.2L110.0 28.2L111.4 29.6L112.3 34.2L111.7 38.4L112.7 40.7L109.5 46.3L108.7 48.6M106.4 21.9L114.4 20.7L118.0 23.4M113.1 14.9L116.7 15.3L119.7 16.5M121.0 8.4L119.7 16.5L121.4 21.5L118.0 23.4L116.3 26.4L115.7 28.9L111.4 29.6M106.8 24.9L110.0 26.4L110.0 28.2M121.4 21.5L127.1 23.8L127.3 29.6L130.9 31.8L129.0 36.3M111.7 38.4L119.9 38.4L126.5 39.1L129.0 36.3L134.5 37.4L137.1 42.1L142.1 43.7L146.6 44.7L146.0 50.2L142.6 52.7M146.4 63.8L154.4 66.1L159.9 68.1L164.6 68.4M153.8 70.4L157.0 69.8L160.1 70.4L159.9 68.1M157.0 69.8L160.1 74.6L160.1 76.5M166.1 55.2L161.2 48.9L160.1 48.3L162.3 42.1L164.8 41.4L169.7 37.7L177.1 40.1L182.4 39.7L191.9 40.7L188.7 36.7L190.8 30.0L199.3 28.2L207.8 24.5L212.0 28.9L217.3 29.6L224.3 28.2L226.6 32.1L231.1 40.1L237.4 40.1L242.3 43.4L246.5 46.0M246.5 46.0L243.1 48.6L242.9 52.4L237.4 52.4L235.9 57.6L231.1 59.4L232.8 64.4L231.5 67.3M172.8 68.4L176.0 67.0L180.3 69.8L180.3 59.1L185.8 57.3L190.8 60.9L193.0 63.5L199.3 62.9L201.6 65.0L201.4 67.8L205.7 70.7L211.8 67.0L217.3 66.4L219.8 64.4L231.5 67.3M180.3 69.8L185.5 65.8L188.7 69.5L192.7 70.4L198.0 76.5L202.7 80.5M191.3 82.6L194.0 86.0L198.2 83.4L202.7 80.5L205.2 81.0L208.4 81.3L210.3 80.0L210.5 77.8L212.9 78.1L213.3 82.1L216.9 80.4L220.3 81.0M220.3 81.0L217.9 77.3L217.7 74.8L222.6 72.4L227.7 69.5L231.5 67.3M211.8 67.0L212.0 72.9L217.7 74.8M205.0 74.6L206.5 78.4L205.2 81.0M205.0 74.6L208.4 71.2L212.0 72.9M247.6 46.0L256.5 40.7L267.7 44.1L269.8 36.7L278.1 39.1L278.3 41.4L288.2 43.4L296.1 46.0L303.0 42.7L308.8 43.7M247.6 46.0L254.1 53.3L254.3 58.5L263.7 61.2L265.8 65.8L273.4 66.1L283.8 68.7L292.5 66.7L298.4 62.9L298.6 59.1L306.6 57.6L315.5 53.9L310.9 50.8L306.4 50.2L308.8 43.7M308.8 43.7L311.1 45.0L314.0 42.4L317.4 34.6L318.5 32.1L323.4 31.2L328.2 33.2L331.6 42.7L338.4 47.0L338.8 50.8L346.9 48.9L345.2 55.2L343.5 58.8L340.9 58.2L339.0 59.7L339.7 63.8L338.2 66.7M324.8 73.5L330.3 68.4L332.9 67.8L336.5 65.0L338.2 66.7M329.7 79.4L333.5 77.3M233.2 98.9L237.4 101.1L241.9 102.8L243.8 104.2L248.2 104.5M249.9 105.9L251.8 103.7L255.6 104.2L256.7 104.7M25.7 119.8L34.2 119.8L34.2 115.9L36.3 115.0L36.3 109.0L43.3 109.0L43.3 105.9M51.5 111.3L47.7 111.3L49.8 130.6L50.1 132.8L42.0 132.8L39.0 133.0L37.4 132.6L35.9 134.3M26.8 131.5L31.0 130.4L34.2 132.8L35.9 134.3L37.6 139.5L32.7 139.1L26.3 139.6M26.1 136.9L29.9 136.5L32.5 137.4L29.9 137.8L26.1 138.0M32.7 139.1L32.7 141.1L29.9 142.6M37.6 139.5L42.6 139.5L44.8 144.3M33.5 146.9L37.4 144.7L39.9 147.9L37.4 151.4M39.9 147.9L41.8 150.3L44.1 149.9L44.8 144.3M45.7 156.7L43.9 152.2L44.1 149.9M44.8 144.3L50.1 143.9L55.8 145.6L55.1 155.2M55.8 145.6L55.6 142.6L61.7 142.4L62.8 147.9L64.2 153.1M65.2 152.8L65.1 146.9L63.6 142.6L61.7 142.4M67.4 152.4L67.4 146.9L69.3 141.1L66.8 140.0L63.6 142.6M50.1 143.9L50.7 140.8L52.6 137.8L57.5 135.6L62.1 133.9L69.1 133.0L70.6 129.9L70.6 124.8M62.1 133.9L63.8 138.2L66.8 140.0M69.3 141.1L70.2 137.2L76.5 138.2L82.9 137.6L90.3 136.7L94.5 129.7L94.5 122.8L93.5 115.9M90.3 136.7L91.8 139.5L89.6 145.6L86.7 151.1L82.4 151.6L79.9 155.8M91.8 139.5L93.7 144.7L91.1 145.6L94.5 150.1L92.4 153.5L92.8 156.3L96.0 161.3M94.5 150.1L101.1 149.0L106.2 145.8L109.3 142.6M96.0 161.3L101.1 158.6L101.1 156.9L109.1 157.3L114.6 155.4L119.7 155.4M82.4 161.1L89.9 161.3L96.0 161.3M82.4 163.9L85.6 163.9L85.6 161.3M85.2 174.3L86.9 171.1L88.2 170.9L92.2 170.2L92.4 167.3L91.1 166.0L91.8 163.0L89.9 161.3M101.1 158.6L99.4 166.6L96.0 170.2L95.4 174.3L92.2 176.4L89.4 175.7L87.5 178.3M87.5 178.5L96.8 178.5L97.7 180.9L103.0 180.9L107.9 181.5L107.9 189.4L112.5 189.4L108.3 193.8L108.3 200.8L111.2 203.9M112.5 189.4L115.5 190.7L118.9 191.6L123.1 194.6L124.8 192.0L122.2 185.8L123.1 183.8L126.9 183.6M123.9 175.3L123.1 171.7L124.4 169.0L124.4 167.1L125.2 164.3L128.0 161.3L127.1 158.6M124.4 169.0L126.3 168.1M123.1 171.7L126.9 171.1M131.3 186.0L132.0 192.7L131.6 195.9M115.3 204.3L118.9 204.8L122.7 201.4L126.1 199.7M86.7 203.1L91.3 203.4L100.7 203.4L111.2 203.9L115.3 204.3L110.4 204.8L106.2 205.4L106.2 213.8L104.0 213.8L104.0 220.2M115.3 204.3L116.7 208.1L120.3 210.4L123.9 214.2M360.2 171.5L360.2 185.3" fill="none" stroke="#a9b9c9" stroke-width="0.4" stroke-linejoin="round"/>
<path d="M58.1 63.8L63.2 65.6L68.3 66.7M76.5 56.4L76.1 58.8L76.5 61.5L77.6 62.6M90.7 54.5L90.9 57.3M90.7 57.6L94.1 57.6L96.6 54.5M100.9 66.4L100.9 64.4L102.3 63.5M102.8 68.1L104.3 66.4M104.0 74.3L106.2 71.0M57.0 86.6L58.1 90.7L59.2 93.7L54.3 96.9L50.1 99.9L43.3 102.5L43.3 105.0M79.9 81.8L79.3 86.8L77.8 89.9L80.8 94.2L81.8 98.6M81.8 98.6L83.5 95.2L86.0 91.7M81.8 98.6L82.7 104.2L81.6 108.5L82.9 112.5L87.1 114.8M115.0 95.4L114.6 101.3L114.6 118.2M137.7 84.5L139.4 82.1L142.1 81.8L148.1 81.3L151.5 81.3L156.5 81.0M151.5 81.3L149.1 85.3L148.5 88.4L143.8 90.9M143.8 90.9L139.6 93.7L137.5 92.7M143.8 90.9L144.7 94.2M144.7 94.2L140.0 95.7L142.1 98.1L141.1 99.4L138.1 101.3L135.7 100.8M144.7 94.2L147.2 94.7L150.8 96.7L156.3 101.3L160.1 101.6L162.3 101.8L164.2 103.0M156.5 81.0L157.8 84.2L159.1 85.0L157.8 89.4L159.1 91.9L162.9 94.9L162.7 96.9L164.4 99.4M152.3 130.8L153.4 128.6L155.9 128.6L160.6 129.0L163.7 126.8L171.8 125.0M171.8 125.0L174.1 130.2M171.8 125.0L178.1 122.8L179.6 118.2L178.6 116.6M178.6 116.6L173.1 116.2L170.9 113.4M178.6 116.6L179.8 113.2L181.1 111.5M136.0 91.7L137.5 91.2L138.8 88.1L137.9 87.8M134.3 96.2L135.7 100.6M136.9 93.4L136.9 95.7L135.8 100.3M206.1 114.3L207.3 112.9L212.0 112.7L209.9 109.0L210.5 104.7L214.1 104.2L217.1 99.6L219.4 96.9L219.6 93.7L219.0 92.4M250.1 118.7L249.9 115.5L248.2 112.5L248.4 109.4L249.7 108.0L251.8 109.2L251.8 110.6L257.3 111.1L256.9 112.9L254.8 113.6L255.0 115.7L255.6 115.9L256.3 114.6L257.1 114.3L257.7 118.5L257.7 119.8M270.9 144.3L272.6 140.8L271.5 137.8L269.6 133.7L271.1 130.8L267.9 126.1L269.2 123.4L273.6 121.9L275.7 118.9M273.6 121.9L274.7 123.9L276.2 123.9L275.5 127.7L277.8 126.8L280.6 126.4L283.3 128.6L283.6 131.2L285.0 133.0L285.3 135.2L284.4 135.4M284.4 135.4L279.8 135.4L278.5 136.9L279.5 141.1M284.4 135.4L286.1 135.2L289.3 134.5M278.1 117.3L279.5 118.9L280.0 120.7L283.1 121.4L282.1 123.4L284.4 125.7L287.4 129.5L289.1 131.9L289.3 134.5L289.3 139.5L285.9 141.3L286.5 142.6L284.2 142.8L282.9 143.9M273.6 152.3L275.7 153.9L277.8 152.8M293.7 161.8L293.9 163.9L295.8 164.1L298.8 163.0L302.8 163.0L305.2 160.7L307.1 156.9L310.7 157.1M324.2 185.8L326.3 185.6L326.5 186.2M139.0 135.4L140.0 129.5L143.4 127.2M133.5 168.1L141.5 172.4L141.3 173.4L144.7 176.0M134.9 190.5L141.1 190.9L147.4 188.4M150.4 157.7L148.5 160.1L148.5 167.7L149.6 169.6M133.5 157.3L135.8 156.3L137.7 156.3M152.5 142.7L153.3 141.5M151.5 139.5L152.9 138.9M128.0 214.7L129.2 218.4L129.4 222.8M129.7 224.9L131.3 224.9" fill="none" stroke="#2a3a48" stroke-opacity="0.38" stroke-width="0.35" stroke-linejoin="round"/>
<g clip-path="url(#rcM)"><path fill="none" d="M72.3 -4.8L72.3 6.3L73.6 10.8L76.5 14.5L79.7 13.3L82.4 10.4L84.1 7.9L85.4 10.8L86.7 15.7L88.4 21.1L89.0 24.5L92.0 24.1L92.2 21.9L95.6 21.1L96.8 16.1L97.5 12.1L101.1 7.9L101.9 2.0L111.0 2.0L111.2 9.6L111.7 12.1L113.4 13.3L113.1 17.2L110.8 18.4L109.5 15.7L107.6 16.5L106.2 19.6L106.4 24.5L104.0 26.4L103.2 28.2L101.3 28.2L100.4 26.7L96.6 27.8L92.0 30.0L90.3 27.8L87.7 28.9L85.0 29.6L82.9 27.8L82.2 25.3L83.5 22.6L84.6 20.7L83.5 18.4L84.1 15.7L82.0 18.0L79.1 18.4L78.8 23.8L79.9 26.4L80.5 29.3L79.7 31.1L76.7 31.1L73.1 31.8L71.6 33.5L70.4 36.7L68.9 38.7L67.0 39.7L65.1 40.4L64.9 42.7L62.1 44.7L59.2 45.7L58.7 44.4L57.7 44.4L58.3 47.6L55.3 47.3L51.8 48.6L52.6 50.5L56.2 51.7L57.5 53.6L59.4 55.8L59.2 60.3L58.1 63.8L53.7 63.5L49.4 63.2L44.8 62.9L42.2 64.7L43.1 68.4L43.3 72.1L41.8 75.4L41.6 77.0L43.1 77.8L42.9 81.6L46.0 81.0L48.2 82.1L49.8 84.2L52.4 82.4L57.0 82.4L60.2 80.0L62.1 77.0L61.1 74.8L63.4 71.2L68.5 68.1L68.3 66.7L68.1 64.7L70.2 63.5L73.1 64.4L75.9 64.7L77.6 62.6L80.3 60.9L83.1 62.4L83.9 65.3L86.3 67.0L88.4 69.5L90.9 70.1L92.0 71.5L94.7 73.5L95.4 76.2L95.8 77.6L94.8 79.0L95.8 79.0L96.8 77.8L98.1 76.2L96.6 74.3L97.7 72.1L99.8 73.9L100.9 73.2L99.6 71.5L95.6 69.3L95.8 68.1L93.9 68.1L91.8 66.4L90.5 63.5L88.0 61.5L87.7 58.2L89.4 57.0L90.9 57.3L90.5 59.1L92.4 58.2L93.7 61.2L95.6 63.5L98.7 65.3L100.9 66.7L102.8 68.1L103.0 71.2L102.8 72.6L104.0 74.3L105.5 76.5L106.4 78.1L107.0 80.0L107.6 82.1L109.1 83.0L110.0 82.4L110.6 82.9L110.0 80.2L110.8 80.0L112.5 79.7L112.5 78.4L110.4 76.5L109.5 75.4L111.0 75.7L109.5 72.1L111.2 72.6L112.3 73.5L113.4 72.9L112.5 71.5L115.0 71.0L116.7 71.5L118.2 72.1L117.2 73.3L117.0 74.8L118.6 77.6L119.3 80.5L119.7 82.1L121.6 82.4L123.3 82.9L126.3 83.4L127.1 82.1L129.4 82.9L131.6 83.9L133.7 83.4L135.4 82.1L137.9 82.1L137.5 83.4L137.7 86.0L137.1 89.4L136.0 91.9L134.7 95.7L134.1 96.2L130.1 96.4L127.3 95.7L125.2 96.2L123.1 97.4L119.5 96.2L115.0 95.4L110.6 92.9L107.4 92.2L104.3 93.9L103.8 97.4L101.9 98.6L98.7 97.2L94.7 95.7L93.9 93.7L90.3 92.4L86.0 91.7L84.8 90.4L83.1 88.6L84.8 86.0L83.9 83.7L85.0 81.6L82.9 80.8L79.9 81.8L76.5 81.6L72.3 82.1L68.1 82.1L63.8 83.2L60.6 84.7L57.5 86.6L55.3 86.0L52.2 86.3L50.5 84.7L49.2 84.7L47.9 88.1L45.6 90.4L42.6 92.7L41.0 95.7L41.2 99.4L39.5 101.8L36.3 104.2L33.8 104.9L31.0 108.5L27.8 114.1L25.7 119.4L26.8 123.9L27.6 127.2L26.8 131.2L24.7 134.5L26.3 138.2L26.1 139.5L28.9 141.5L32.1 144.7L33.5 146.9L35.2 150.1L37.4 151.4L41.6 154.3L45.6 156.7L50.1 155.2L55.3 155.2L57.5 156.0L61.7 154.1L64.2 153.3L67.0 152.6L71.2 152.6L73.3 155.6L75.5 156.9L79.3 156.5L80.5 156.5L81.8 157.9L82.4 161.1L81.8 163.9L81.4 166.0L80.3 167.7L81.8 170.2L85.0 174.1L86.7 175.7L87.5 178.3L88.8 180.9L90.1 184.1L90.9 188.4L90.3 192.7L88.2 194.8L87.1 199.2L86.7 203.0L88.2 207.0L90.3 211.5L92.4 215.6L92.4 219.5L93.5 224.2L96.4 229.2L98.1 232.6L100.2 237.1L99.6 239.6L100.7 242.6L101.9 243.6L104.0 244.7L108.3 242.9L112.5 242.9L116.1 242.6L119.9 240.6L123.1 237.6L126.3 233.9L127.8 231.4L130.1 229.2L131.3 225.4L131.3 223.0L130.7 221.9L132.6 221.2L136.4 219.1L136.9 214.2L135.8 210.4L135.4 208.8L139.0 205.9L142.1 203.0L146.0 201.0L147.9 198.1L147.7 193.8L147.4 189.0L146.4 187.3L145.3 184.1L145.1 180.9L143.8 178.7L144.7 176.2L146.0 174.5L146.8 171.9L149.6 169.6L151.7 167.1L154.8 163.9L159.1 160.9L163.3 156.5L166.5 151.1L168.6 146.4L170.1 143.6L170.3 140.8L168.6 140.8L165.4 141.9L161.2 142.4L157.0 143.6L154.8 143.6L153.4 141.5L153.2 140.8L153.4 139.3L151.7 137.8L148.5 135.0L146.0 132.8L144.7 130.6L143.4 127.2L141.1 125.5L140.5 120.5L139.8 118.2L137.3 113.9L134.7 109.0L133.0 105.4L130.7 100.6L130.7 99.6L132.0 103.0L134.1 104.7L135.2 102.3L135.7 100.6L135.4 104.2L136.9 105.4L139.0 109.4L140.7 112.9L143.2 115.9L144.5 119.4L146.4 122.3L148.5 125.0L150.6 128.4L152.3 131.0L152.3 133.9L153.4 137.6L153.8 138.9L157.0 138.7L160.1 137.4L164.4 136.1L167.6 133.9L172.2 132.6L174.1 130.4L178.1 129.5L181.3 127.2L184.1 125.0L184.1 122.1L185.5 121.9L188.3 117.1L185.8 114.6L182.4 113.6L181.1 111.5L181.1 108.5L180.3 109.0L178.8 110.6L176.7 112.9L173.1 113.2L170.9 113.2L170.9 111.3L170.7 109.0L169.7 109.0L169.2 111.8L168.0 110.1L167.8 107.3L165.4 105.4L164.4 103.0L163.3 100.8L163.1 99.4L165.2 98.6L167.6 98.9L169.2 101.8L170.7 104.5L173.9 107.1L177.7 107.5L180.9 106.1L182.4 107.1L183.0 109.7L186.6 110.4L191.9 111.1L196.1 110.6L199.3 110.6L202.5 110.4L203.5 111.8L204.6 113.9L206.1 114.3L207.3 115.5L209.9 116.2L207.8 117.5L209.9 120.5L212.0 121.2L214.5 120.1L215.4 117.8L215.8 120.5L215.8 125.0L216.9 129.5L217.9 132.8L219.4 136.1L220.3 139.3L222.2 142.6L223.2 145.8L224.7 148.4L225.9 148.8L227.2 147.1L228.9 146.2L230.8 144.1L230.6 140.8L231.7 138.0L231.3 133.9L232.8 132.1L235.9 130.4L238.5 127.9L241.6 124.6L244.8 122.8L245.9 119.8L248.0 118.9L250.1 118.7L253.3 118.2L256.0 117.5L257.1 121.0L258.6 123.2L260.7 125.5L261.8 128.4L261.3 131.7L263.7 132.1L265.4 131.0L267.5 129.9L268.5 131.7L268.7 133.9L269.6 137.2L270.4 140.4L270.4 144.7L269.8 146.9L269.8 149.0L271.7 150.7L273.6 152.4L274.2 154.6L275.1 157.5L276.4 160.1L278.7 161.8L280.8 163.1L282.3 163.0L280.8 160.3L280.6 157.5L278.7 153.7L277.8 152.8L276.6 151.4L274.5 150.5L273.4 147.9L271.9 146.2L271.7 143.6L273.0 140.8L273.4 137.4L275.3 137.6L275.3 139.1L278.1 140.0L279.5 141.3L280.8 143.4L282.9 143.9L284.0 144.9L283.6 147.7L285.0 146.9L287.8 144.1L289.3 143.6L292.5 141.7L293.1 138.7L292.9 136.1L292.0 133.0L290.3 131.0L288.2 129.0L287.2 127.2L285.7 125.0L286.1 122.8L287.8 121.0L290.3 119.4L292.5 119.1L293.9 119.6L294.6 122.1L295.6 122.1L295.6 119.8L298.2 119.1L302.0 117.8L303.7 117.3L306.2 116.6L309.4 114.8L312.6 112.0L314.7 109.4L315.7 106.6L318.5 103.5L319.8 100.3L317.9 97.9L319.8 96.9L319.6 95.2L316.8 90.7L314.3 87.1L316.4 84.2L321.0 81.6L318.9 80.2L313.6 80.8L311.5 78.4L310.9 76.2L313.6 75.4L317.9 71.2L320.0 72.1L318.3 76.2L323.1 74.0L324.8 73.5L327.0 75.1L325.9 78.4L328.0 79.4L329.7 80.5L329.1 82.9L329.5 85.5L329.1 87.8L331.6 87.8L334.4 86.8L335.6 84.7L335.6 81.6L333.9 78.4L331.6 74.8L333.7 72.6L336.3 70.7L336.9 67.8L338.4 66.7L341.1 64.4L343.7 65.6L348.6 60.6L352.8 54.5L356.0 49.9L359.1 43.4L358.9 36.7L360.8 32.5L358.1 29.6L353.8 28.6L351.3 26.0L347.9 26.7L352.8 20.3L358.1 14.5L363.4 9.2L370.8 6.3L370.8 -7.1L72.3 -7.1ZM123.3 70.1L128.2 70.1L132.2 67.8L136.0 67.8L139.0 69.8L143.2 71.0L146.4 70.7L149.6 69.3L149.8 67.3L148.5 65.0L145.7 63.5L142.1 60.9L140.7 59.1L139.2 58.5L136.9 59.1L134.7 60.6L132.6 60.6L131.6 58.2L132.8 56.4L129.4 55.5L127.3 54.2L125.6 56.4L124.6 58.5L122.5 62.1L121.0 64.1L120.3 66.4L121.0 68.1ZM139.2 57.9L135.8 57.3L136.4 55.2L140.0 53.3L143.2 52.7L144.7 53.0L142.1 56.1L141.1 57.6ZM118.9 72.1L120.1 70.7L122.9 70.7L124.8 71.5L123.1 72.4L120.6 72.5ZM161.2 59.1L162.3 62.1L162.3 65.0L164.4 67.8L166.1 70.7L168.2 72.4L166.5 74.8L165.2 77.6L166.5 80.2L169.7 82.1L173.9 82.1L176.0 80.8L175.6 77.6L173.9 74.8L173.9 72.1L176.4 70.7L175.0 67.8L172.8 68.4L170.7 65.0L169.7 60.6L172.8 57.9L173.9 54.5L171.8 53.0L167.6 53.6L165.4 54.5L163.3 56.1Z" stroke="#1a6fe8" stroke-width="0.5" stroke-opacity="0.85" stroke-linejoin="round"/></g>
<g clip-path="url(#rcW)"><path fill="none" d="M72.3 -4.8L72.3 6.3L73.6 10.8L76.5 14.5L79.7 13.3L82.4 10.4L84.1 7.9L85.4 10.8L86.7 15.7L88.4 21.1L89.0 24.5L92.0 24.1L92.2 21.9L95.6 21.1L96.8 16.1L97.5 12.1L101.1 7.9L101.9 2.0L111.0 2.0L111.2 9.6L111.7 12.1L113.4 13.3L113.1 17.2L110.8 18.4L109.5 15.7L107.6 16.5L106.2 19.6L106.4 24.5L104.0 26.4L103.2 28.2L101.3 28.2L100.4 26.7L96.6 27.8L92.0 30.0L90.3 27.8L87.7 28.9L85.0 29.6L82.9 27.8L82.2 25.3L83.5 22.6L84.6 20.7L83.5 18.4L84.1 15.7L82.0 18.0L79.1 18.4L78.8 23.8L79.9 26.4L80.5 29.3L79.7 31.1L76.7 31.1L73.1 31.8L71.6 33.5L70.4 36.7L68.9 38.7L67.0 39.7L65.1 40.4L64.9 42.7L62.1 44.7L59.2 45.7L58.7 44.4L57.7 44.4L58.3 47.6L55.3 47.3L51.8 48.6L52.6 50.5L56.2 51.7L57.5 53.6L59.4 55.8L59.2 60.3L58.1 63.8L53.7 63.5L49.4 63.2L44.8 62.9L42.2 64.7L43.1 68.4L43.3 72.1L41.8 75.4L41.6 77.0L43.1 77.8L42.9 81.6L46.0 81.0L48.2 82.1L49.8 84.2L52.4 82.4L57.0 82.4L60.2 80.0L62.1 77.0L61.1 74.8L63.4 71.2L68.5 68.1L68.3 66.7L68.1 64.7L70.2 63.5L73.1 64.4L75.9 64.7L77.6 62.6L80.3 60.9L83.1 62.4L83.9 65.3L86.3 67.0L88.4 69.5L90.9 70.1L92.0 71.5L94.7 73.5L95.4 76.2L95.8 77.6L94.8 79.0L95.8 79.0L96.8 77.8L98.1 76.2L96.6 74.3L97.7 72.1L99.8 73.9L100.9 73.2L99.6 71.5L95.6 69.3L95.8 68.1L93.9 68.1L91.8 66.4L90.5 63.5L88.0 61.5L87.7 58.2L89.4 57.0L90.9 57.3L90.5 59.1L92.4 58.2L93.7 61.2L95.6 63.5L98.7 65.3L100.9 66.7L102.8 68.1L103.0 71.2L102.8 72.6L104.0 74.3L105.5 76.5L106.4 78.1L107.0 80.0L107.6 82.1L109.1 83.0L110.0 82.4L110.6 82.9L110.0 80.2L110.8 80.0L112.5 79.7L112.5 78.4L110.4 76.5L109.5 75.4L111.0 75.7L109.5 72.1L111.2 72.6L112.3 73.5L113.4 72.9L112.5 71.5L115.0 71.0L116.7 71.5L118.2 72.1L117.2 73.3L117.0 74.8L118.6 77.6L119.3 80.5L119.7 82.1L121.6 82.4L123.3 82.9L126.3 83.4L127.1 82.1L129.4 82.9L131.6 83.9L133.7 83.4L135.4 82.1L137.9 82.1L137.5 83.4L137.7 86.0L137.1 89.4L136.0 91.9L134.7 95.7L134.1 96.2L130.1 96.4L127.3 95.7L125.2 96.2L123.1 97.4L119.5 96.2L115.0 95.4L110.6 92.9L107.4 92.2L104.3 93.9L103.8 97.4L101.9 98.6L98.7 97.2L94.7 95.7L93.9 93.7L90.3 92.4L86.0 91.7L84.8 90.4L83.1 88.6L84.8 86.0L83.9 83.7L85.0 81.6L82.9 80.8L79.9 81.8L76.5 81.6L72.3 82.1L68.1 82.1L63.8 83.2L60.6 84.7L57.5 86.6L55.3 86.0L52.2 86.3L50.5 84.7L49.2 84.7L47.9 88.1L45.6 90.4L42.6 92.7L41.0 95.7L41.2 99.4L39.5 101.8L36.3 104.2L33.8 104.9L31.0 108.5L27.8 114.1L25.7 119.4L26.8 123.9L27.6 127.2L26.8 131.2L24.7 134.5L26.3 138.2L26.1 139.5L28.9 141.5L32.1 144.7L33.5 146.9L35.2 150.1L37.4 151.4L41.6 154.3L45.6 156.7L50.1 155.2L55.3 155.2L57.5 156.0L61.7 154.1L64.2 153.3L67.0 152.6L71.2 152.6L73.3 155.6L75.5 156.9L79.3 156.5L80.5 156.5L81.8 157.9L82.4 161.1L81.8 163.9L81.4 166.0L80.3 167.7L81.8 170.2L85.0 174.1L86.7 175.7L87.5 178.3L88.8 180.9L90.1 184.1L90.9 188.4L90.3 192.7L88.2 194.8L87.1 199.2L86.7 203.0L88.2 207.0L90.3 211.5L92.4 215.6L92.4 219.5L93.5 224.2L96.4 229.2L98.1 232.6L100.2 237.1L99.6 239.6L100.7 242.6L101.9 243.6L104.0 244.7L108.3 242.9L112.5 242.9L116.1 242.6L119.9 240.6L123.1 237.6L126.3 233.9L127.8 231.4L130.1 229.2L131.3 225.4L131.3 223.0L130.7 221.9L132.6 221.2L136.4 219.1L136.9 214.2L135.8 210.4L135.4 208.8L139.0 205.9L142.1 203.0L146.0 201.0L147.9 198.1L147.7 193.8L147.4 189.0L146.4 187.3L145.3 184.1L145.1 180.9L143.8 178.7L144.7 176.2L146.0 174.5L146.8 171.9L149.6 169.6L151.7 167.1L154.8 163.9L159.1 160.9L163.3 156.5L166.5 151.1L168.6 146.4L170.1 143.6L170.3 140.8L168.6 140.8L165.4 141.9L161.2 142.4L157.0 143.6L154.8 143.6L153.4 141.5L153.2 140.8L153.4 139.3L151.7 137.8L148.5 135.0L146.0 132.8L144.7 130.6L143.4 127.2L141.1 125.5L140.5 120.5L139.8 118.2L137.3 113.9L134.7 109.0L133.0 105.4L130.7 100.6L130.7 99.6L132.0 103.0L134.1 104.7L135.2 102.3L135.7 100.6L135.4 104.2L136.9 105.4L139.0 109.4L140.7 112.9L143.2 115.9L144.5 119.4L146.4 122.3L148.5 125.0L150.6 128.4L152.3 131.0L152.3 133.9L153.4 137.6L153.8 138.9L157.0 138.7L160.1 137.4L164.4 136.1L167.6 133.9L172.2 132.6L174.1 130.4L178.1 129.5L181.3 127.2L184.1 125.0L184.1 122.1L185.5 121.9L188.3 117.1L185.8 114.6L182.4 113.6L181.1 111.5L181.1 108.5L180.3 109.0L178.8 110.6L176.7 112.9L173.1 113.2L170.9 113.2L170.9 111.3L170.7 109.0L169.7 109.0L169.2 111.8L168.0 110.1L167.8 107.3L165.4 105.4L164.4 103.0L163.3 100.8L163.1 99.4L165.2 98.6L167.6 98.9L169.2 101.8L170.7 104.5L173.9 107.1L177.7 107.5L180.9 106.1L182.4 107.1L183.0 109.7L186.6 110.4L191.9 111.1L196.1 110.6L199.3 110.6L202.5 110.4L203.5 111.8L204.6 113.9L206.1 114.3L207.3 115.5L209.9 116.2L207.8 117.5L209.9 120.5L212.0 121.2L214.5 120.1L215.4 117.8L215.8 120.5L215.8 125.0L216.9 129.5L217.9 132.8L219.4 136.1L220.3 139.3L222.2 142.6L223.2 145.8L224.7 148.4L225.9 148.8L227.2 147.1L228.9 146.2L230.8 144.1L230.6 140.8L231.7 138.0L231.3 133.9L232.8 132.1L235.9 130.4L238.5 127.9L241.6 124.6L244.8 122.8L245.9 119.8L248.0 118.9L250.1 118.7L253.3 118.2L256.0 117.5L257.1 121.0L258.6 123.2L260.7 125.5L261.8 128.4L261.3 131.7L263.7 132.1L265.4 131.0L267.5 129.9L268.5 131.7L268.7 133.9L269.6 137.2L270.4 140.4L270.4 144.7L269.8 146.9L269.8 149.0L271.7 150.7L273.6 152.4L274.2 154.6L275.1 157.5L276.4 160.1L278.7 161.8L280.8 163.1L282.3 163.0L280.8 160.3L280.6 157.5L278.7 153.7L277.8 152.8L276.6 151.4L274.5 150.5L273.4 147.9L271.9 146.2L271.7 143.6L273.0 140.8L273.4 137.4L275.3 137.6L275.3 139.1L278.1 140.0L279.5 141.3L280.8 143.4L282.9 143.9L284.0 144.9L283.6 147.7L285.0 146.9L287.8 144.1L289.3 143.6L292.5 141.7L293.1 138.7L292.9 136.1L292.0 133.0L290.3 131.0L288.2 129.0L287.2 127.2L285.7 125.0L286.1 122.8L287.8 121.0L290.3 119.4L292.5 119.1L293.9 119.6L294.6 122.1L295.6 122.1L295.6 119.8L298.2 119.1L302.0 117.8L303.7 117.3L306.2 116.6L309.4 114.8L312.6 112.0L314.7 109.4L315.7 106.6L318.5 103.5L319.8 100.3L317.9 97.9L319.8 96.9L319.6 95.2L316.8 90.7L314.3 87.1L316.4 84.2L321.0 81.6L318.9 80.2L313.6 80.8L311.5 78.4L310.9 76.2L313.6 75.4L317.9 71.2L320.0 72.1L318.3 76.2L323.1 74.0L324.8 73.5L327.0 75.1L325.9 78.4L328.0 79.4L329.7 80.5L329.1 82.9L329.5 85.5L329.1 87.8L331.6 87.8L334.4 86.8L335.6 84.7L335.6 81.6L333.9 78.4L331.6 74.8L333.7 72.6L336.3 70.7L336.9 67.8L338.4 66.7L341.1 64.4L343.7 65.6L348.6 60.6L352.8 54.5L356.0 49.9L359.1 43.4L358.9 36.7L360.8 32.5L358.1 29.6L353.8 28.6L351.3 26.0L347.9 26.7L352.8 20.3L358.1 14.5L363.4 9.2L370.8 6.3L370.8 -7.1L72.3 -7.1ZM123.3 70.1L128.2 70.1L132.2 67.8L136.0 67.8L139.0 69.8L143.2 71.0L146.4 70.7L149.6 69.3L149.8 67.3L148.5 65.0L145.7 63.5L142.1 60.9L140.7 59.1L139.2 58.5L136.9 59.1L134.7 60.6L132.6 60.6L131.6 58.2L132.8 56.4L129.4 55.5L127.3 54.2L125.6 56.4L124.6 58.5L122.5 62.1L121.0 64.1L120.3 66.4L121.0 68.1ZM139.2 57.9L135.8 57.3L136.4 55.2L140.0 53.3L143.2 52.7L144.7 53.0L142.1 56.1L141.1 57.6ZM118.9 72.1L120.1 70.7L122.9 70.7L124.8 71.5L123.1 72.4L120.6 72.5ZM161.2 59.1L162.3 62.1L162.3 65.0L164.4 67.8L166.1 70.7L168.2 72.4L166.5 74.8L165.2 77.6L166.5 80.2L169.7 82.1L173.9 82.1L176.0 80.8L175.6 77.6L173.9 74.8L173.9 72.1L176.4 70.7L175.0 67.8L172.8 68.4L170.7 65.0L169.7 60.6L172.8 57.9L173.9 54.5L171.8 53.0L167.6 53.6L165.4 54.5L163.3 56.1Z" stroke="#1a6fe8" stroke-width="0.5" stroke-opacity="0.85" stroke-linejoin="round"/></g>
<g clip-path="url(#rcS)"><path fill="none" d="M72.3 -4.8L72.3 6.3L73.6 10.8L76.5 14.5L79.7 13.3L82.4 10.4L84.1 7.9L85.4 10.8L86.7 15.7L88.4 21.1L89.0 24.5L92.0 24.1L92.2 21.9L95.6 21.1L96.8 16.1L97.5 12.1L101.1 7.9L101.9 2.0L111.0 2.0L111.2 9.6L111.7 12.1L113.4 13.3L113.1 17.2L110.8 18.4L109.5 15.7L107.6 16.5L106.2 19.6L106.4 24.5L104.0 26.4L103.2 28.2L101.3 28.2L100.4 26.7L96.6 27.8L92.0 30.0L90.3 27.8L87.7 28.9L85.0 29.6L82.9 27.8L82.2 25.3L83.5 22.6L84.6 20.7L83.5 18.4L84.1 15.7L82.0 18.0L79.1 18.4L78.8 23.8L79.9 26.4L80.5 29.3L79.7 31.1L76.7 31.1L73.1 31.8L71.6 33.5L70.4 36.7L68.9 38.7L67.0 39.7L65.1 40.4L64.9 42.7L62.1 44.7L59.2 45.7L58.7 44.4L57.7 44.4L58.3 47.6L55.3 47.3L51.8 48.6L52.6 50.5L56.2 51.7L57.5 53.6L59.4 55.8L59.2 60.3L58.1 63.8L53.7 63.5L49.4 63.2L44.8 62.9L42.2 64.7L43.1 68.4L43.3 72.1L41.8 75.4L41.6 77.0L43.1 77.8L42.9 81.6L46.0 81.0L48.2 82.1L49.8 84.2L52.4 82.4L57.0 82.4L60.2 80.0L62.1 77.0L61.1 74.8L63.4 71.2L68.5 68.1L68.3 66.7L68.1 64.7L70.2 63.5L73.1 64.4L75.9 64.7L77.6 62.6L80.3 60.9L83.1 62.4L83.9 65.3L86.3 67.0L88.4 69.5L90.9 70.1L92.0 71.5L94.7 73.5L95.4 76.2L95.8 77.6L94.8 79.0L95.8 79.0L96.8 77.8L98.1 76.2L96.6 74.3L97.7 72.1L99.8 73.9L100.9 73.2L99.6 71.5L95.6 69.3L95.8 68.1L93.9 68.1L91.8 66.4L90.5 63.5L88.0 61.5L87.7 58.2L89.4 57.0L90.9 57.3L90.5 59.1L92.4 58.2L93.7 61.2L95.6 63.5L98.7 65.3L100.9 66.7L102.8 68.1L103.0 71.2L102.8 72.6L104.0 74.3L105.5 76.5L106.4 78.1L107.0 80.0L107.6 82.1L109.1 83.0L110.0 82.4L110.6 82.9L110.0 80.2L110.8 80.0L112.5 79.7L112.5 78.4L110.4 76.5L109.5 75.4L111.0 75.7L109.5 72.1L111.2 72.6L112.3 73.5L113.4 72.9L112.5 71.5L115.0 71.0L116.7 71.5L118.2 72.1L117.2 73.3L117.0 74.8L118.6 77.6L119.3 80.5L119.7 82.1L121.6 82.4L123.3 82.9L126.3 83.4L127.1 82.1L129.4 82.9L131.6 83.9L133.7 83.4L135.4 82.1L137.9 82.1L137.5 83.4L137.7 86.0L137.1 89.4L136.0 91.9L134.7 95.7L134.1 96.2L130.1 96.4L127.3 95.7L125.2 96.2L123.1 97.4L119.5 96.2L115.0 95.4L110.6 92.9L107.4 92.2L104.3 93.9L103.8 97.4L101.9 98.6L98.7 97.2L94.7 95.7L93.9 93.7L90.3 92.4L86.0 91.7L84.8 90.4L83.1 88.6L84.8 86.0L83.9 83.7L85.0 81.6L82.9 80.8L79.9 81.8L76.5 81.6L72.3 82.1L68.1 82.1L63.8 83.2L60.6 84.7L57.5 86.6L55.3 86.0L52.2 86.3L50.5 84.7L49.2 84.7L47.9 88.1L45.6 90.4L42.6 92.7L41.0 95.7L41.2 99.4L39.5 101.8L36.3 104.2L33.8 104.9L31.0 108.5L27.8 114.1L25.7 119.4L26.8 123.9L27.6 127.2L26.8 131.2L24.7 134.5L26.3 138.2L26.1 139.5L28.9 141.5L32.1 144.7L33.5 146.9L35.2 150.1L37.4 151.4L41.6 154.3L45.6 156.7L50.1 155.2L55.3 155.2L57.5 156.0L61.7 154.1L64.2 153.3L67.0 152.6L71.2 152.6L73.3 155.6L75.5 156.9L79.3 156.5L80.5 156.5L81.8 157.9L82.4 161.1L81.8 163.9L81.4 166.0L80.3 167.7L81.8 170.2L85.0 174.1L86.7 175.7L87.5 178.3L88.8 180.9L90.1 184.1L90.9 188.4L90.3 192.7L88.2 194.8L87.1 199.2L86.7 203.0L88.2 207.0L90.3 211.5L92.4 215.6L92.4 219.5L93.5 224.2L96.4 229.2L98.1 232.6L100.2 237.1L99.6 239.6L100.7 242.6L101.9 243.6L104.0 244.7L108.3 242.9L112.5 242.9L116.1 242.6L119.9 240.6L123.1 237.6L126.3 233.9L127.8 231.4L130.1 229.2L131.3 225.4L131.3 223.0L130.7 221.9L132.6 221.2L136.4 219.1L136.9 214.2L135.8 210.4L135.4 208.8L139.0 205.9L142.1 203.0L146.0 201.0L147.9 198.1L147.7 193.8L147.4 189.0L146.4 187.3L145.3 184.1L145.1 180.9L143.8 178.7L144.7 176.2L146.0 174.5L146.8 171.9L149.6 169.6L151.7 167.1L154.8 163.9L159.1 160.9L163.3 156.5L166.5 151.1L168.6 146.4L170.1 143.6L170.3 140.8L168.6 140.8L165.4 141.9L161.2 142.4L157.0 143.6L154.8 143.6L153.4 141.5L153.2 140.8L153.4 139.3L151.7 137.8L148.5 135.0L146.0 132.8L144.7 130.6L143.4 127.2L141.1 125.5L140.5 120.5L139.8 118.2L137.3 113.9L134.7 109.0L133.0 105.4L130.7 100.6L130.7 99.6L132.0 103.0L134.1 104.7L135.2 102.3L135.7 100.6L135.4 104.2L136.9 105.4L139.0 109.4L140.7 112.9L143.2 115.9L144.5 119.4L146.4 122.3L148.5 125.0L150.6 128.4L152.3 131.0L152.3 133.9L153.4 137.6L153.8 138.9L157.0 138.7L160.1 137.4L164.4 136.1L167.6 133.9L172.2 132.6L174.1 130.4L178.1 129.5L181.3 127.2L184.1 125.0L184.1 122.1L185.5 121.9L188.3 117.1L185.8 114.6L182.4 113.6L181.1 111.5L181.1 108.5L180.3 109.0L178.8 110.6L176.7 112.9L173.1 113.2L170.9 113.2L170.9 111.3L170.7 109.0L169.7 109.0L169.2 111.8L168.0 110.1L167.8 107.3L165.4 105.4L164.4 103.0L163.3 100.8L163.1 99.4L165.2 98.6L167.6 98.9L169.2 101.8L170.7 104.5L173.9 107.1L177.7 107.5L180.9 106.1L182.4 107.1L183.0 109.7L186.6 110.4L191.9 111.1L196.1 110.6L199.3 110.6L202.5 110.4L203.5 111.8L204.6 113.9L206.1 114.3L207.3 115.5L209.9 116.2L207.8 117.5L209.9 120.5L212.0 121.2L214.5 120.1L215.4 117.8L215.8 120.5L215.8 125.0L216.9 129.5L217.9 132.8L219.4 136.1L220.3 139.3L222.2 142.6L223.2 145.8L224.7 148.4L225.9 148.8L227.2 147.1L228.9 146.2L230.8 144.1L230.6 140.8L231.7 138.0L231.3 133.9L232.8 132.1L235.9 130.4L238.5 127.9L241.6 124.6L244.8 122.8L245.9 119.8L248.0 118.9L250.1 118.7L253.3 118.2L256.0 117.5L257.1 121.0L258.6 123.2L260.7 125.5L261.8 128.4L261.3 131.7L263.7 132.1L265.4 131.0L267.5 129.9L268.5 131.7L268.7 133.9L269.6 137.2L270.4 140.4L270.4 144.7L269.8 146.9L269.8 149.0L271.7 150.7L273.6 152.4L274.2 154.6L275.1 157.5L276.4 160.1L278.7 161.8L280.8 163.1L282.3 163.0L280.8 160.3L280.6 157.5L278.7 153.7L277.8 152.8L276.6 151.4L274.5 150.5L273.4 147.9L271.9 146.2L271.7 143.6L273.0 140.8L273.4 137.4L275.3 137.6L275.3 139.1L278.1 140.0L279.5 141.3L280.8 143.4L282.9 143.9L284.0 144.9L283.6 147.7L285.0 146.9L287.8 144.1L289.3 143.6L292.5 141.7L293.1 138.7L292.9 136.1L292.0 133.0L290.3 131.0L288.2 129.0L287.2 127.2L285.7 125.0L286.1 122.8L287.8 121.0L290.3 119.4L292.5 119.1L293.9 119.6L294.6 122.1L295.6 122.1L295.6 119.8L298.2 119.1L302.0 117.8L303.7 117.3L306.2 116.6L309.4 114.8L312.6 112.0L314.7 109.4L315.7 106.6L318.5 103.5L319.8 100.3L317.9 97.9L319.8 96.9L319.6 95.2L316.8 90.7L314.3 87.1L316.4 84.2L321.0 81.6L318.9 80.2L313.6 80.8L311.5 78.4L310.9 76.2L313.6 75.4L317.9 71.2L320.0 72.1L318.3 76.2L323.1 74.0L324.8 73.5L327.0 75.1L325.9 78.4L328.0 79.4L329.7 80.5L329.1 82.9L329.5 85.5L329.1 87.8L331.6 87.8L334.4 86.8L335.6 84.7L335.6 81.6L333.9 78.4L331.6 74.8L333.7 72.6L336.3 70.7L336.9 67.8L338.4 66.7L341.1 64.4L343.7 65.6L348.6 60.6L352.8 54.5L356.0 49.9L359.1 43.4L358.9 36.7L360.8 32.5L358.1 29.6L353.8 28.6L351.3 26.0L347.9 26.7L352.8 20.3L358.1 14.5L363.4 9.2L370.8 6.3L370.8 -7.1L72.3 -7.1ZM123.3 70.1L128.2 70.1L132.2 67.8L136.0 67.8L139.0 69.8L143.2 71.0L146.4 70.7L149.6 69.3L149.8 67.3L148.5 65.0L145.7 63.5L142.1 60.9L140.7 59.1L139.2 58.5L136.9 59.1L134.7 60.6L132.6 60.6L131.6 58.2L132.8 56.4L129.4 55.5L127.3 54.2L125.6 56.4L124.6 58.5L122.5 62.1L121.0 64.1L120.3 66.4L121.0 68.1ZM139.2 57.9L135.8 57.3L136.4 55.2L140.0 53.3L143.2 52.7L144.7 53.0L142.1 56.1L141.1 57.6ZM118.9 72.1L120.1 70.7L122.9 70.7L124.8 71.5L123.1 72.4L120.6 72.5ZM161.2 59.1L162.3 62.1L162.3 65.0L164.4 67.8L166.1 70.7L168.2 72.4L166.5 74.8L165.2 77.6L166.5 80.2L169.7 82.1L173.9 82.1L176.0 80.8L175.6 77.6L173.9 74.8L173.9 72.1L176.4 70.7L175.0 67.8L172.8 68.4L170.7 65.0L169.7 60.6L172.8 57.9L173.9 54.5L171.8 53.0L167.6 53.6L165.4 54.5L163.3 56.1Z" stroke="#1a6fe8" stroke-width="0.5" stroke-opacity="0.85" stroke-linejoin="round"/></g>
<g clip-path="url(#rcY)"><path fill="none" d="M72.3 -4.8L72.3 6.3L73.6 10.8L76.5 14.5L79.7 13.3L82.4 10.4L84.1 7.9L85.4 10.8L86.7 15.7L88.4 21.1L89.0 24.5L92.0 24.1L92.2 21.9L95.6 21.1L96.8 16.1L97.5 12.1L101.1 7.9L101.9 2.0L111.0 2.0L111.2 9.6L111.7 12.1L113.4 13.3L113.1 17.2L110.8 18.4L109.5 15.7L107.6 16.5L106.2 19.6L106.4 24.5L104.0 26.4L103.2 28.2L101.3 28.2L100.4 26.7L96.6 27.8L92.0 30.0L90.3 27.8L87.7 28.9L85.0 29.6L82.9 27.8L82.2 25.3L83.5 22.6L84.6 20.7L83.5 18.4L84.1 15.7L82.0 18.0L79.1 18.4L78.8 23.8L79.9 26.4L80.5 29.3L79.7 31.1L76.7 31.1L73.1 31.8L71.6 33.5L70.4 36.7L68.9 38.7L67.0 39.7L65.1 40.4L64.9 42.7L62.1 44.7L59.2 45.7L58.7 44.4L57.7 44.4L58.3 47.6L55.3 47.3L51.8 48.6L52.6 50.5L56.2 51.7L57.5 53.6L59.4 55.8L59.2 60.3L58.1 63.8L53.7 63.5L49.4 63.2L44.8 62.9L42.2 64.7L43.1 68.4L43.3 72.1L41.8 75.4L41.6 77.0L43.1 77.8L42.9 81.6L46.0 81.0L48.2 82.1L49.8 84.2L52.4 82.4L57.0 82.4L60.2 80.0L62.1 77.0L61.1 74.8L63.4 71.2L68.5 68.1L68.3 66.7L68.1 64.7L70.2 63.5L73.1 64.4L75.9 64.7L77.6 62.6L80.3 60.9L83.1 62.4L83.9 65.3L86.3 67.0L88.4 69.5L90.9 70.1L92.0 71.5L94.7 73.5L95.4 76.2L95.8 77.6L94.8 79.0L95.8 79.0L96.8 77.8L98.1 76.2L96.6 74.3L97.7 72.1L99.8 73.9L100.9 73.2L99.6 71.5L95.6 69.3L95.8 68.1L93.9 68.1L91.8 66.4L90.5 63.5L88.0 61.5L87.7 58.2L89.4 57.0L90.9 57.3L90.5 59.1L92.4 58.2L93.7 61.2L95.6 63.5L98.7 65.3L100.9 66.7L102.8 68.1L103.0 71.2L102.8 72.6L104.0 74.3L105.5 76.5L106.4 78.1L107.0 80.0L107.6 82.1L109.1 83.0L110.0 82.4L110.6 82.9L110.0 80.2L110.8 80.0L112.5 79.7L112.5 78.4L110.4 76.5L109.5 75.4L111.0 75.7L109.5 72.1L111.2 72.6L112.3 73.5L113.4 72.9L112.5 71.5L115.0 71.0L116.7 71.5L118.2 72.1L117.2 73.3L117.0 74.8L118.6 77.6L119.3 80.5L119.7 82.1L121.6 82.4L123.3 82.9L126.3 83.4L127.1 82.1L129.4 82.9L131.6 83.9L133.7 83.4L135.4 82.1L137.9 82.1L137.5 83.4L137.7 86.0L137.1 89.4L136.0 91.9L134.7 95.7L134.1 96.2L130.1 96.4L127.3 95.7L125.2 96.2L123.1 97.4L119.5 96.2L115.0 95.4L110.6 92.9L107.4 92.2L104.3 93.9L103.8 97.4L101.9 98.6L98.7 97.2L94.7 95.7L93.9 93.7L90.3 92.4L86.0 91.7L84.8 90.4L83.1 88.6L84.8 86.0L83.9 83.7L85.0 81.6L82.9 80.8L79.9 81.8L76.5 81.6L72.3 82.1L68.1 82.1L63.8 83.2L60.6 84.7L57.5 86.6L55.3 86.0L52.2 86.3L50.5 84.7L49.2 84.7L47.9 88.1L45.6 90.4L42.6 92.7L41.0 95.7L41.2 99.4L39.5 101.8L36.3 104.2L33.8 104.9L31.0 108.5L27.8 114.1L25.7 119.4L26.8 123.9L27.6 127.2L26.8 131.2L24.7 134.5L26.3 138.2L26.1 139.5L28.9 141.5L32.1 144.7L33.5 146.9L35.2 150.1L37.4 151.4L41.6 154.3L45.6 156.7L50.1 155.2L55.3 155.2L57.5 156.0L61.7 154.1L64.2 153.3L67.0 152.6L71.2 152.6L73.3 155.6L75.5 156.9L79.3 156.5L80.5 156.5L81.8 157.9L82.4 161.1L81.8 163.9L81.4 166.0L80.3 167.7L81.8 170.2L85.0 174.1L86.7 175.7L87.5 178.3L88.8 180.9L90.1 184.1L90.9 188.4L90.3 192.7L88.2 194.8L87.1 199.2L86.7 203.0L88.2 207.0L90.3 211.5L92.4 215.6L92.4 219.5L93.5 224.2L96.4 229.2L98.1 232.6L100.2 237.1L99.6 239.6L100.7 242.6L101.9 243.6L104.0 244.7L108.3 242.9L112.5 242.9L116.1 242.6L119.9 240.6L123.1 237.6L126.3 233.9L127.8 231.4L130.1 229.2L131.3 225.4L131.3 223.0L130.7 221.9L132.6 221.2L136.4 219.1L136.9 214.2L135.8 210.4L135.4 208.8L139.0 205.9L142.1 203.0L146.0 201.0L147.9 198.1L147.7 193.8L147.4 189.0L146.4 187.3L145.3 184.1L145.1 180.9L143.8 178.7L144.7 176.2L146.0 174.5L146.8 171.9L149.6 169.6L151.7 167.1L154.8 163.9L159.1 160.9L163.3 156.5L166.5 151.1L168.6 146.4L170.1 143.6L170.3 140.8L168.6 140.8L165.4 141.9L161.2 142.4L157.0 143.6L154.8 143.6L153.4 141.5L153.2 140.8L153.4 139.3L151.7 137.8L148.5 135.0L146.0 132.8L144.7 130.6L143.4 127.2L141.1 125.5L140.5 120.5L139.8 118.2L137.3 113.9L134.7 109.0L133.0 105.4L130.7 100.6L130.7 99.6L132.0 103.0L134.1 104.7L135.2 102.3L135.7 100.6L135.4 104.2L136.9 105.4L139.0 109.4L140.7 112.9L143.2 115.9L144.5 119.4L146.4 122.3L148.5 125.0L150.6 128.4L152.3 131.0L152.3 133.9L153.4 137.6L153.8 138.9L157.0 138.7L160.1 137.4L164.4 136.1L167.6 133.9L172.2 132.6L174.1 130.4L178.1 129.5L181.3 127.2L184.1 125.0L184.1 122.1L185.5 121.9L188.3 117.1L185.8 114.6L182.4 113.6L181.1 111.5L181.1 108.5L180.3 109.0L178.8 110.6L176.7 112.9L173.1 113.2L170.9 113.2L170.9 111.3L170.7 109.0L169.7 109.0L169.2 111.8L168.0 110.1L167.8 107.3L165.4 105.4L164.4 103.0L163.3 100.8L163.1 99.4L165.2 98.6L167.6 98.9L169.2 101.8L170.7 104.5L173.9 107.1L177.7 107.5L180.9 106.1L182.4 107.1L183.0 109.7L186.6 110.4L191.9 111.1L196.1 110.6L199.3 110.6L202.5 110.4L203.5 111.8L204.6 113.9L206.1 114.3L207.3 115.5L209.9 116.2L207.8 117.5L209.9 120.5L212.0 121.2L214.5 120.1L215.4 117.8L215.8 120.5L215.8 125.0L216.9 129.5L217.9 132.8L219.4 136.1L220.3 139.3L222.2 142.6L223.2 145.8L224.7 148.4L225.9 148.8L227.2 147.1L228.9 146.2L230.8 144.1L230.6 140.8L231.7 138.0L231.3 133.9L232.8 132.1L235.9 130.4L238.5 127.9L241.6 124.6L244.8 122.8L245.9 119.8L248.0 118.9L250.1 118.7L253.3 118.2L256.0 117.5L257.1 121.0L258.6 123.2L260.7 125.5L261.8 128.4L261.3 131.7L263.7 132.1L265.4 131.0L267.5 129.9L268.5 131.7L268.7 133.9L269.6 137.2L270.4 140.4L270.4 144.7L269.8 146.9L269.8 149.0L271.7 150.7L273.6 152.4L274.2 154.6L275.1 157.5L276.4 160.1L278.7 161.8L280.8 163.1L282.3 163.0L280.8 160.3L280.6 157.5L278.7 153.7L277.8 152.8L276.6 151.4L274.5 150.5L273.4 147.9L271.9 146.2L271.7 143.6L273.0 140.8L273.4 137.4L275.3 137.6L275.3 139.1L278.1 140.0L279.5 141.3L280.8 143.4L282.9 143.9L284.0 144.9L283.6 147.7L285.0 146.9L287.8 144.1L289.3 143.6L292.5 141.7L293.1 138.7L292.9 136.1L292.0 133.0L290.3 131.0L288.2 129.0L287.2 127.2L285.7 125.0L286.1 122.8L287.8 121.0L290.3 119.4L292.5 119.1L293.9 119.6L294.6 122.1L295.6 122.1L295.6 119.8L298.2 119.1L302.0 117.8L303.7 117.3L306.2 116.6L309.4 114.8L312.6 112.0L314.7 109.4L315.7 106.6L318.5 103.5L319.8 100.3L317.9 97.9L319.8 96.9L319.6 95.2L316.8 90.7L314.3 87.1L316.4 84.2L321.0 81.6L318.9 80.2L313.6 80.8L311.5 78.4L310.9 76.2L313.6 75.4L317.9 71.2L320.0 72.1L318.3 76.2L323.1 74.0L324.8 73.5L327.0 75.1L325.9 78.4L328.0 79.4L329.7 80.5L329.1 82.9L329.5 85.5L329.1 87.8L331.6 87.8L334.4 86.8L335.6 84.7L335.6 81.6L333.9 78.4L331.6 74.8L333.7 72.6L336.3 70.7L336.9 67.8L338.4 66.7L341.1 64.4L343.7 65.6L348.6 60.6L352.8 54.5L356.0 49.9L359.1 43.4L358.9 36.7L360.8 32.5L358.1 29.6L353.8 28.6L351.3 26.0L347.9 26.7L352.8 20.3L358.1 14.5L363.4 9.2L370.8 6.3L370.8 -7.1L72.3 -7.1ZM123.3 70.1L128.2 70.1L132.2 67.8L136.0 67.8L139.0 69.8L143.2 71.0L146.4 70.7L149.6 69.3L149.8 67.3L148.5 65.0L145.7 63.5L142.1 60.9L140.7 59.1L139.2 58.5L136.9 59.1L134.7 60.6L132.6 60.6L131.6 58.2L132.8 56.4L129.4 55.5L127.3 54.2L125.6 56.4L124.6 58.5L122.5 62.1L121.0 64.1L120.3 66.4L121.0 68.1ZM139.2 57.9L135.8 57.3L136.4 55.2L140.0 53.3L143.2 52.7L144.7 53.0L142.1 56.1L141.1 57.6ZM118.9 72.1L120.1 70.7L122.9 70.7L124.8 71.5L123.1 72.4L120.6 72.5ZM161.2 59.1L162.3 62.1L162.3 65.0L164.4 67.8L166.1 70.7L168.2 72.4L166.5 74.8L165.2 77.6L166.5 80.2L169.7 82.1L173.9 82.1L176.0 80.8L175.6 77.6L173.9 74.8L173.9 72.1L176.4 70.7L175.0 67.8L172.8 68.4L170.7 65.0L169.7 60.6L172.8 57.9L173.9 54.5L171.8 53.0L167.6 53.6L165.4 54.5L163.3 56.1Z" stroke="#1a6fe8" stroke-width="0.5" stroke-opacity="0.85" stroke-linejoin="round"/></g>
<g clip-path="url(#rcP)"><path fill="none" d="M72.3 -4.8L72.3 6.3L73.6 10.8L76.5 14.5L79.7 13.3L82.4 10.4L84.1 7.9L85.4 10.8L86.7 15.7L88.4 21.1L89.0 24.5L92.0 24.1L92.2 21.9L95.6 21.1L96.8 16.1L97.5 12.1L101.1 7.9L101.9 2.0L111.0 2.0L111.2 9.6L111.7 12.1L113.4 13.3L113.1 17.2L110.8 18.4L109.5 15.7L107.6 16.5L106.2 19.6L106.4 24.5L104.0 26.4L103.2 28.2L101.3 28.2L100.4 26.7L96.6 27.8L92.0 30.0L90.3 27.8L87.7 28.9L85.0 29.6L82.9 27.8L82.2 25.3L83.5 22.6L84.6 20.7L83.5 18.4L84.1 15.7L82.0 18.0L79.1 18.4L78.8 23.8L79.9 26.4L80.5 29.3L79.7 31.1L76.7 31.1L73.1 31.8L71.6 33.5L70.4 36.7L68.9 38.7L67.0 39.7L65.1 40.4L64.9 42.7L62.1 44.7L59.2 45.7L58.7 44.4L57.7 44.4L58.3 47.6L55.3 47.3L51.8 48.6L52.6 50.5L56.2 51.7L57.5 53.6L59.4 55.8L59.2 60.3L58.1 63.8L53.7 63.5L49.4 63.2L44.8 62.9L42.2 64.7L43.1 68.4L43.3 72.1L41.8 75.4L41.6 77.0L43.1 77.8L42.9 81.6L46.0 81.0L48.2 82.1L49.8 84.2L52.4 82.4L57.0 82.4L60.2 80.0L62.1 77.0L61.1 74.8L63.4 71.2L68.5 68.1L68.3 66.7L68.1 64.7L70.2 63.5L73.1 64.4L75.9 64.7L77.6 62.6L80.3 60.9L83.1 62.4L83.9 65.3L86.3 67.0L88.4 69.5L90.9 70.1L92.0 71.5L94.7 73.5L95.4 76.2L95.8 77.6L94.8 79.0L95.8 79.0L96.8 77.8L98.1 76.2L96.6 74.3L97.7 72.1L99.8 73.9L100.9 73.2L99.6 71.5L95.6 69.3L95.8 68.1L93.9 68.1L91.8 66.4L90.5 63.5L88.0 61.5L87.7 58.2L89.4 57.0L90.9 57.3L90.5 59.1L92.4 58.2L93.7 61.2L95.6 63.5L98.7 65.3L100.9 66.7L102.8 68.1L103.0 71.2L102.8 72.6L104.0 74.3L105.5 76.5L106.4 78.1L107.0 80.0L107.6 82.1L109.1 83.0L110.0 82.4L110.6 82.9L110.0 80.2L110.8 80.0L112.5 79.7L112.5 78.4L110.4 76.5L109.5 75.4L111.0 75.7L109.5 72.1L111.2 72.6L112.3 73.5L113.4 72.9L112.5 71.5L115.0 71.0L116.7 71.5L118.2 72.1L117.2 73.3L117.0 74.8L118.6 77.6L119.3 80.5L119.7 82.1L121.6 82.4L123.3 82.9L126.3 83.4L127.1 82.1L129.4 82.9L131.6 83.9L133.7 83.4L135.4 82.1L137.9 82.1L137.5 83.4L137.7 86.0L137.1 89.4L136.0 91.9L134.7 95.7L134.1 96.2L130.1 96.4L127.3 95.7L125.2 96.2L123.1 97.4L119.5 96.2L115.0 95.4L110.6 92.9L107.4 92.2L104.3 93.9L103.8 97.4L101.9 98.6L98.7 97.2L94.7 95.7L93.9 93.7L90.3 92.4L86.0 91.7L84.8 90.4L83.1 88.6L84.8 86.0L83.9 83.7L85.0 81.6L82.9 80.8L79.9 81.8L76.5 81.6L72.3 82.1L68.1 82.1L63.8 83.2L60.6 84.7L57.5 86.6L55.3 86.0L52.2 86.3L50.5 84.7L49.2 84.7L47.9 88.1L45.6 90.4L42.6 92.7L41.0 95.7L41.2 99.4L39.5 101.8L36.3 104.2L33.8 104.9L31.0 108.5L27.8 114.1L25.7 119.4L26.8 123.9L27.6 127.2L26.8 131.2L24.7 134.5L26.3 138.2L26.1 139.5L28.9 141.5L32.1 144.7L33.5 146.9L35.2 150.1L37.4 151.4L41.6 154.3L45.6 156.7L50.1 155.2L55.3 155.2L57.5 156.0L61.7 154.1L64.2 153.3L67.0 152.6L71.2 152.6L73.3 155.6L75.5 156.9L79.3 156.5L80.5 156.5L81.8 157.9L82.4 161.1L81.8 163.9L81.4 166.0L80.3 167.7L81.8 170.2L85.0 174.1L86.7 175.7L87.5 178.3L88.8 180.9L90.1 184.1L90.9 188.4L90.3 192.7L88.2 194.8L87.1 199.2L86.7 203.0L88.2 207.0L90.3 211.5L92.4 215.6L92.4 219.5L93.5 224.2L96.4 229.2L98.1 232.6L100.2 237.1L99.6 239.6L100.7 242.6L101.9 243.6L104.0 244.7L108.3 242.9L112.5 242.9L116.1 242.6L119.9 240.6L123.1 237.6L126.3 233.9L127.8 231.4L130.1 229.2L131.3 225.4L131.3 223.0L130.7 221.9L132.6 221.2L136.4 219.1L136.9 214.2L135.8 210.4L135.4 208.8L139.0 205.9L142.1 203.0L146.0 201.0L147.9 198.1L147.7 193.8L147.4 189.0L146.4 187.3L145.3 184.1L145.1 180.9L143.8 178.7L144.7 176.2L146.0 174.5L146.8 171.9L149.6 169.6L151.7 167.1L154.8 163.9L159.1 160.9L163.3 156.5L166.5 151.1L168.6 146.4L170.1 143.6L170.3 140.8L168.6 140.8L165.4 141.9L161.2 142.4L157.0 143.6L154.8 143.6L153.4 141.5L153.2 140.8L153.4 139.3L151.7 137.8L148.5 135.0L146.0 132.8L144.7 130.6L143.4 127.2L141.1 125.5L140.5 120.5L139.8 118.2L137.3 113.9L134.7 109.0L133.0 105.4L130.7 100.6L130.7 99.6L132.0 103.0L134.1 104.7L135.2 102.3L135.7 100.6L135.4 104.2L136.9 105.4L139.0 109.4L140.7 112.9L143.2 115.9L144.5 119.4L146.4 122.3L148.5 125.0L150.6 128.4L152.3 131.0L152.3 133.9L153.4 137.6L153.8 138.9L157.0 138.7L160.1 137.4L164.4 136.1L167.6 133.9L172.2 132.6L174.1 130.4L178.1 129.5L181.3 127.2L184.1 125.0L184.1 122.1L185.5 121.9L188.3 117.1L185.8 114.6L182.4 113.6L181.1 111.5L181.1 108.5L180.3 109.0L178.8 110.6L176.7 112.9L173.1 113.2L170.9 113.2L170.9 111.3L170.7 109.0L169.7 109.0L169.2 111.8L168.0 110.1L167.8 107.3L165.4 105.4L164.4 103.0L163.3 100.8L163.1 99.4L165.2 98.6L167.6 98.9L169.2 101.8L170.7 104.5L173.9 107.1L177.7 107.5L180.9 106.1L182.4 107.1L183.0 109.7L186.6 110.4L191.9 111.1L196.1 110.6L199.3 110.6L202.5 110.4L203.5 111.8L204.6 113.9L206.1 114.3L207.3 115.5L209.9 116.2L207.8 117.5L209.9 120.5L212.0 121.2L214.5 120.1L215.4 117.8L215.8 120.5L215.8 125.0L216.9 129.5L217.9 132.8L219.4 136.1L220.3 139.3L222.2 142.6L223.2 145.8L224.7 148.4L225.9 148.8L227.2 147.1L228.9 146.2L230.8 144.1L230.6 140.8L231.7 138.0L231.3 133.9L232.8 132.1L235.9 130.4L238.5 127.9L241.6 124.6L244.8 122.8L245.9 119.8L248.0 118.9L250.1 118.7L253.3 118.2L256.0 117.5L257.1 121.0L258.6 123.2L260.7 125.5L261.8 128.4L261.3 131.7L263.7 132.1L265.4 131.0L267.5 129.9L268.5 131.7L268.7 133.9L269.6 137.2L270.4 140.4L270.4 144.7L269.8 146.9L269.8 149.0L271.7 150.7L273.6 152.4L274.2 154.6L275.1 157.5L276.4 160.1L278.7 161.8L280.8 163.1L282.3 163.0L280.8 160.3L280.6 157.5L278.7 153.7L277.8 152.8L276.6 151.4L274.5 150.5L273.4 147.9L271.9 146.2L271.7 143.6L273.0 140.8L273.4 137.4L275.3 137.6L275.3 139.1L278.1 140.0L279.5 141.3L280.8 143.4L282.9 143.9L284.0 144.9L283.6 147.7L285.0 146.9L287.8 144.1L289.3 143.6L292.5 141.7L293.1 138.7L292.9 136.1L292.0 133.0L290.3 131.0L288.2 129.0L287.2 127.2L285.7 125.0L286.1 122.8L287.8 121.0L290.3 119.4L292.5 119.1L293.9 119.6L294.6 122.1L295.6 122.1L295.6 119.8L298.2 119.1L302.0 117.8L303.7 117.3L306.2 116.6L309.4 114.8L312.6 112.0L314.7 109.4L315.7 106.6L318.5 103.5L319.8 100.3L317.9 97.9L319.8 96.9L319.6 95.2L316.8 90.7L314.3 87.1L316.4 84.2L321.0 81.6L318.9 80.2L313.6 80.8L311.5 78.4L310.9 76.2L313.6 75.4L317.9 71.2L320.0 72.1L318.3 76.2L323.1 74.0L324.8 73.5L327.0 75.1L325.9 78.4L328.0 79.4L329.7 80.5L329.1 82.9L329.5 85.5L329.1 87.8L331.6 87.8L334.4 86.8L335.6 84.7L335.6 81.6L333.9 78.4L331.6 74.8L333.7 72.6L336.3 70.7L336.9 67.8L338.4 66.7L341.1 64.4L343.7 65.6L348.6 60.6L352.8 54.5L356.0 49.9L359.1 43.4L358.9 36.7L360.8 32.5L358.1 29.6L353.8 28.6L351.3 26.0L347.9 26.7L352.8 20.3L358.1 14.5L363.4 9.2L370.8 6.3L370.8 -7.1L72.3 -7.1ZM123.3 70.1L128.2 70.1L132.2 67.8L136.0 67.8L139.0 69.8L143.2 71.0L146.4 70.7L149.6 69.3L149.8 67.3L148.5 65.0L145.7 63.5L142.1 60.9L140.7 59.1L139.2 58.5L136.9 59.1L134.7 60.6L132.6 60.6L131.6 58.2L132.8 56.4L129.4 55.5L127.3 54.2L125.6 56.4L124.6 58.5L122.5 62.1L121.0 64.1L120.3 66.4L121.0 68.1ZM139.2 57.9L135.8 57.3L136.4 55.2L140.0 53.3L143.2 52.7L144.7 53.0L142.1 56.1L141.1 57.6ZM118.9 72.1L120.1 70.7L122.9 70.7L124.8 71.5L123.1 72.4L120.6 72.5ZM161.2 59.1L162.3 62.1L162.3 65.0L164.4 67.8L166.1 70.7L168.2 72.4L166.5 74.8L165.2 77.6L166.5 80.2L169.7 82.1L173.9 82.1L176.0 80.8L175.6 77.6L173.9 74.8L173.9 72.1L176.4 70.7L175.0 67.8L172.8 68.4L170.7 65.0L169.7 60.6L172.8 57.9L173.9 54.5L171.8 53.0L167.6 53.6L165.4 54.5L163.3 56.1Z" stroke="#1a6fe8" stroke-width="0.5" stroke-opacity="0.85" stroke-linejoin="round"/></g>
<path d="M79.9 66.7L81.6 65.0L81.8 67.8L81.2 69.5L80.3 69.0ZM79.1 71.0L81.2 70.1L82.4 72.1L82.0 75.7L80.8 76.2L79.5 75.7L79.5 72.6ZM88.0 79.2L89.9 78.4L94.7 78.1L93.7 80.8L93.7 82.4L92.0 81.6L88.2 80.0ZM111.4 85.5L112.9 85.3L116.3 86.0L117.4 86.3L117.0 86.8L114.2 86.9L111.7 86.2ZM130.1 86.8L131.6 85.8L134.9 85.0L133.7 86.8L131.6 87.8Z" fill="#70aebb" stroke="#1a6fe8" stroke-width="0.9" stroke-linejoin="round"/>
<path d="M66.8 74.6L68.3 73.6L68.9 74.3L68.1 75.4ZM64.2 76.5L65.1 75.9L65.1 76.6ZM69.7 73.3L70.8 73.5L70.6 73.9ZM110.4 76.5L111.7 76.7L113.8 78.9L112.9 78.6L111.2 77.6ZM116.5 75.7L117.8 75.1L118.0 76.2L116.7 76.2ZM116.5 77.3L117.1 77.4L117.0 78.4L116.5 78.2ZM118.0 79.4L119.0 79.6L118.4 79.8ZM120.3 83.8L121.5 83.0L121.2 84.2L120.4 84.5ZM118.6 81.8L119.5 82.0L118.9 82.4ZM115.5 81.0L115.9 81.3L115.7 81.7L115.4 81.4ZM114.0 79.0L114.5 79.4L114.4 79.7ZM113.2 82.2L113.7 82.4L113.5 82.5ZM115.4 83.0L115.7 83.2L115.5 83.3ZM114.7 73.6L115.5 73.6L115.3 74.0ZM113.7 71.4L114.1 71.5L113.9 71.8ZM104.9 78.1L105.7 78.1L105.5 78.8ZM103.3 74.1L103.9 74.1L104.3 75.1ZM119.1 84.7L119.3 85.5L119.1 85.8ZM92.0 84.3L92.5 84.5L92.3 84.7ZM84.5 89.8L85.1 89.9L84.8 90.1ZM113.3 76.9L114.0 76.8L113.7 76.2ZM116.8 80.3L117.5 80.2L117.2 79.6ZM114.7 81.7L115.4 81.7L115.1 81.1ZM114.6 80.3L115.3 80.2L115.0 79.6ZM110.0 83.8L110.8 83.8L110.5 83.2ZM105.4 79.7L106.1 79.7L105.8 79.1ZM105.1 77.3L105.8 77.2L105.5 76.6ZM115.5 72.5L116.3 72.4L116.0 71.8ZM117.1 83.0L117.8 83.0L117.6 82.4ZM116.2 82.2L116.9 82.2L116.6 81.6ZM114.9 82.6L115.6 82.6L115.3 82.0ZM112.9 80.3L113.6 80.2L113.3 79.6ZM113.0 80.8L113.7 80.7L113.4 80.2ZM114.1 80.7L114.8 80.6L114.5 80.0ZM115.1 80.7L115.8 80.6L115.5 80.0ZM111.1 76.1L111.8 76.0L111.5 75.4ZM111.6 76.2L112.3 76.2L112.1 75.6ZM118.4 86.0L119.1 86.0L118.8 85.4ZM118.5 81.1L119.2 81.0L118.9 80.4ZM118.1 81.4L118.8 81.4L118.5 80.8ZM117.5 81.1L118.3 81.0L118.0 80.4ZM111.0 79.9L111.7 79.8L111.4 79.2ZM111.1 80.9L111.8 80.9L111.5 80.3ZM95.6 65.3L96.4 65.2L96.1 64.6ZM96.5 64.8L97.2 64.8L96.9 64.1ZM97.3 65.4L98.0 65.4L97.8 64.7ZM92.7 59.7L93.4 59.6L93.1 59.0ZM92.0 60.3L92.8 60.2L92.5 59.6ZM93.1 61.8L93.8 61.7L93.5 61.1ZM93.0 77.8L93.7 77.8L93.4 77.2ZM86.7 82.4L87.5 82.3L87.2 81.7ZM83.1 65.8L83.9 65.8L83.6 65.2Z" fill="#1a6fe8" stroke="#1a6fe8" stroke-width="0.7" stroke-linejoin="round"/>
<path d="M174.5 139.1L177.1 139.1L176.0 139.8ZM168.5 108.5L168.9 108.5L168.8 109.3ZM178.8 107.5L180.9 106.6L180.7 106.8L179.0 107.7ZM185.8 121.4L186.4 121.9L186.0 122.3ZM150.7 130.4L151.4 130.3L151.1 129.8ZM150.0 129.9L150.8 129.9L150.5 129.4ZM151.7 133.4L152.5 133.4L152.2 132.9ZM168.4 108.6L169.1 108.6L168.8 108.1ZM172.7 113.1L173.4 113.0L173.1 112.5ZM174.2 113.2L174.9 113.1L174.6 112.6ZM175.7 113.2L176.4 113.1L176.1 112.6ZM185.8 121.9L186.5 121.8L186.3 121.3Z" fill="#1a6fe8" stroke="#1a6fe8" stroke-width="0.7" stroke-linejoin="round"/>
<path d="M230.7 145.3L231.7 145.6L233.6 147.9L235.0 150.3L234.4 152.4L232.3 153.4L231.1 152.6L230.6 150.1L230.5 147.9ZM258.2 137.0L258.7 137.6L258.6 139.8L258.1 141.3L257.6 140.6L257.9 138.5Z" fill="#905b8e" stroke="#1a6fe8" stroke-width="0.4" stroke-linejoin="round"/>
<path d="M257.3 142.9L257.7 143.2L257.6 143.5L257.3 143.4ZM258.1 146.3L258.3 146.5L258.1 146.7ZM259.6 148.6L259.9 149.0L259.5 149.1ZM260.1 150.7L260.6 151.1L260.3 151.6L260.0 151.3ZM258.0 140.4L258.7 140.4L258.4 139.9ZM258.2 142.4L258.9 142.3L258.7 141.8ZM257.2 144.5L257.9 144.5L257.6 144.0ZM258.2 147.9L258.9 147.9L258.7 147.4ZM259.1 150.3L259.8 150.3L259.5 149.8ZM229.9 146.7L230.6 146.6L230.3 146.1Z" fill="#1a6fe8" stroke="#1a6fe8" stroke-width="0.7" stroke-linejoin="round"/>
<path d="M263.5 154.1L268.1 155.0L269.8 157.1L271.3 158.4L273.4 160.3L275.1 161.3L277.2 162.4L279.1 163.9L280.8 164.9L281.4 168.1L282.9 169.8L284.4 170.9L286.1 172.4L285.9 175.5L285.9 178.3L283.1 178.5L282.5 176.6L279.8 175.7L278.1 174.1L276.2 171.9L274.2 168.5L272.6 166.4L271.3 164.9L270.6 162.4L268.5 160.9L267.0 159.0L264.9 157.1L263.5 155.4ZM284.4 180.4L286.1 178.5L288.2 178.7L291.4 180.0L295.6 179.8L296.7 179.8L300.3 180.6L302.6 182.1L304.1 182.4L303.9 184.5L300.3 183.8L296.7 183.6L293.5 182.6L290.3 182.6L286.9 181.7ZM292.5 162.8L293.7 161.8L295.2 162.4L297.1 162.8L297.5 160.7L300.9 159.2L303.0 156.5L306.2 154.3L309.0 151.1L310.9 152.4L314.0 155.0L311.7 156.9L310.7 158.6L311.5 161.3L313.6 163.9L311.1 164.3L310.4 167.1L308.3 169.2L307.9 172.4L307.3 174.5L304.3 174.7L302.0 173.0L298.4 173.4L295.0 172.1L294.6 169.2L292.7 166.6L292.5 164.3ZM315.3 164.3L317.4 163.2L322.1 164.1L325.9 162.6L326.7 163.0L324.8 165.2L322.1 164.9L317.9 165.0L316.0 166.4L317.4 168.8L318.9 167.9L322.7 167.7L322.7 168.2L319.6 170.0L321.7 172.8L322.5 175.5L321.0 177.2L319.1 176.0L317.9 172.4L316.4 172.1L316.6 176.2L315.5 177.9L314.5 177.4L314.7 173.4L313.2 171.7L314.3 168.8L315.3 166.0Z" fill="#fee8a2" stroke="#1a6fe8" stroke-width="0.85" stroke-linejoin="round"/>
<path d="M284.4 169.4L285.7 169.2L287.4 171.5L287.6 172.4L286.1 172.1L285.0 170.4ZM309.0 184.1L311.1 183.4L312.1 183.8L313.8 183.6L313.6 184.5L311.5 184.9L309.4 185.2ZM315.3 183.8L317.9 183.8L321.7 183.2L322.1 183.8L320.0 184.7L316.8 184.8L315.5 184.7ZM313.6 186.2L315.7 186.0L317.4 187.3L316.2 187.9L314.0 186.8ZM323.1 187.9L324.8 186.0L326.7 184.5L329.7 183.8L331.2 183.8L329.7 185.1L326.3 186.6L324.6 187.7ZM345.6 178.3L346.9 177.7L347.1 179.8L346.0 180.6L345.6 179.4ZM331.6 162.0L332.7 161.3L332.7 163.2L334.2 162.8L334.2 163.9L332.7 164.3L334.6 165.4L333.3 165.4L332.5 165.2L333.5 167.7L332.5 166.8L331.8 164.3ZM328.4 172.8L330.3 172.6L331.0 173.4L329.9 174.2L328.4 173.6ZM332.5 172.4L334.6 172.0L336.9 172.4L338.6 173.4L338.2 174.1L335.9 173.3L333.1 173.4ZM353.0 181.9L355.3 181.7L355.3 183.6L353.2 183.8ZM317.0 126.1L320.4 126.1L320.6 129.5L319.1 131.9L319.3 135.6L321.0 135.6L324.2 138.2L324.4 139.1L322.1 137.2L319.3 136.3L317.0 136.5L317.6 134.8L316.0 134.3L315.3 131.2L316.6 130.4L316.6 127.2ZM316.4 137.4L318.3 137.4L318.9 139.5L318.3 140.0L317.4 138.9ZM309.8 148.2L311.5 146.4L313.6 143.9L314.7 141.7L314.3 143.4L312.8 146.0L310.9 147.9ZM319.8 140.8L321.9 141.5L322.3 142.4L321.2 143.6L320.0 143.6ZM320.8 144.9L322.1 142.8L323.1 143.0L322.7 146.0L322.1 146.8ZM324.8 139.3L327.0 139.3L327.8 142.1L326.3 142.6L325.9 140.8ZM320.0 151.1L321.9 148.8L323.8 149.0L325.7 147.1L327.4 145.4L329.1 147.9L329.5 150.7L328.4 152.6L327.2 154.1L327.0 151.6L324.6 152.8L324.2 149.9L322.9 150.3L320.2 151.4Z" fill="#fee8a2" stroke="#1a6fe8" stroke-width="0.95" stroke-linejoin="round"/>
<path d="M269.2 139.3L269.6 139.8L269.3 140.4ZM269.0 141.7L269.4 142.1L269.0 143.0ZM269.4 144.1L269.7 144.7L269.3 145.2ZM259.6 124.3L260.5 125.0L260.1 125.5ZM269.7 148.7L270.1 148.9L269.8 149.5ZM272.8 152.3L273.2 152.4L273.0 152.7ZM273.3 145.6L273.6 145.8L273.3 146.0ZM281.7 143.9L282.1 144.3L281.8 144.7ZM264.5 160.0L265.8 160.7L265.4 160.9L264.5 160.3ZM267.3 162.9L268.3 163.7L269.0 164.7L268.3 164.7L267.5 163.7ZM270.4 168.1L271.7 169.2L271.9 169.8L271.1 169.6L270.4 168.8ZM273.2 171.3L274.0 172.1L274.5 173.0L273.8 172.8ZM277.8 177.2L278.5 177.4L278.3 177.7ZM289.5 171.5L290.8 171.7L290.8 172.8L289.7 172.8ZM281.9 163.6L283.1 163.7L283.1 164.2L282.1 164.1ZM282.7 165.6L283.3 166.2L282.9 166.8L282.5 166.2ZM282.5 166.8L283.1 167.1L282.9 167.4ZM290.3 157.3L291.2 157.7L290.8 158.4ZM286.3 159.2L286.9 159.4L286.5 159.9ZM300.3 180.9L302.8 180.6L303.2 180.9L302.0 181.4L300.3 181.3ZM304.1 183.4L305.6 183.2L306.6 183.8L305.6 184.7L304.3 184.0ZM307.1 183.8L308.1 183.4L308.8 184.3L307.5 184.9ZM322.7 183.6L324.2 183.4L326.5 183.4L325.3 184.0L323.1 184.1ZM321.9 189.0L322.9 188.4L322.5 189.2ZM328.0 182.6L330.1 182.2L329.7 182.9ZM339.2 182.6L340.5 181.3L340.5 182.8L339.5 183.4ZM336.1 182.8L336.7 182.7L336.5 183.1ZM342.6 178.1L343.5 177.2L343.3 178.5ZM307.3 173.2L307.9 173.0L307.9 174.5L307.3 174.5ZM321.5 175.5L322.5 175.7L321.9 177.9L321.2 177.4ZM320.6 176.0L321.5 176.0L321.2 177.2ZM316.7 178.3L316.9 178.9L316.7 179.6ZM321.9 168.8L323.1 168.8L322.9 169.4L322.1 169.4ZM325.1 169.6L327.0 169.8L329.1 169.8L328.2 170.1L325.3 170.1ZM329.9 156.5L330.3 156.9L330.1 157.5ZM327.2 158.2L327.6 158.6L327.3 158.9ZM333.1 160.9L333.9 160.7L333.9 161.6L333.3 161.8ZM331.2 166.8L332.3 167.1L331.8 167.8ZM331.2 169.0L332.7 169.2L332.0 169.6ZM337.5 166.2L339.7 166.3L339.0 166.8L337.8 166.6ZM336.3 169.8L337.8 169.8L337.5 170.3L336.5 170.2ZM348.6 167.7L350.0 167.9L350.2 168.5L349.2 168.4ZM348.3 169.4L351.3 169.6L351.3 169.9L348.6 169.8ZM315.5 140.0L316.4 140.2L315.7 140.6ZM322.9 145.8L324.0 143.6L324.3 142.1L323.7 144.3ZM323.8 144.9L325.3 144.5L325.3 145.4L324.2 145.6ZM325.1 141.7L326.3 141.9L326.7 144.1L325.9 144.7L325.7 143.0ZM322.5 139.3L324.0 140.0L324.2 140.6L322.7 140.4ZM319.6 151.8L320.6 151.8L320.2 152.3ZM317.6 153.3L318.7 153.3L318.3 153.6ZM315.3 155.0L316.2 155.0L315.7 155.3ZM324.4 136.1L325.1 136.3L324.8 136.9ZM319.6 121.6L320.0 121.9L319.8 122.1ZM291.9 169.4L292.6 169.4L292.3 168.9ZM310.9 158.0L311.7 157.9L311.4 157.4ZM317.1 181.1L317.8 181.0L317.5 180.6ZM319.2 181.7L319.9 181.7L319.6 181.2ZM323.0 177.5L323.7 177.4L323.4 176.9ZM323.6 178.5L324.4 178.5L324.1 178.0ZM331.0 164.5L331.8 164.5L331.5 164.0ZM330.9 163.5L331.7 163.4L331.4 163.0ZM333.6 173.8L334.3 173.8L334.0 173.3ZM336.3 175.8L337.1 175.7L336.8 175.2ZM336.6 168.1L337.3 168.1L337.0 167.6ZM338.5 168.3L339.2 168.3L338.9 167.8ZM339.9 176.2L340.7 176.1L340.4 175.7ZM332.1 183.5L332.8 183.5L332.5 183.0ZM334.0 181.3L334.7 181.3L334.4 180.8ZM309.7 183.5L310.4 183.5L310.1 183.0ZM305.6 180.9L306.4 180.8L306.1 180.4ZM303.5 181.1L304.2 181.0L304.0 180.6ZM295.1 178.5L295.8 178.5L295.5 178.0ZM287.9 164.1L288.6 164.1L288.3 163.6ZM285.1 160.2L285.8 160.1L285.5 159.7ZM281.5 160.3L282.2 160.2L281.9 159.8ZM281.3 164.6L282.0 164.6L281.7 164.1ZM271.1 166.9L271.9 166.8L271.6 166.3ZM269.9 167.1L270.6 167.0L270.3 166.6ZM265.8 161.8L266.6 161.7L266.3 161.3ZM262.9 153.7L263.6 153.7L263.3 153.2ZM323.0 139.1L323.7 139.1L323.4 138.6ZM319.6 139.8L320.3 139.7L320.0 139.2ZM320.9 140.0L321.6 139.9L321.3 139.5ZM319.4 137.8L320.1 137.8L319.8 137.3ZM324.5 146.7L325.2 146.6L324.9 146.1ZM327.4 144.7L328.2 144.7L327.9 144.2ZM328.3 145.4L329.0 145.3L328.7 144.9ZM315.4 141.1L316.1 141.0L315.8 140.5ZM314.3 143.4L315.0 143.4L314.8 142.9ZM268.0 147.1L268.7 147.0L268.4 146.6ZM269.7 150.1L270.4 150.0L270.1 149.6ZM271.0 150.3L271.7 150.3L271.5 149.8ZM278.1 140.8L278.8 140.8L278.6 140.3ZM288.5 121.2L289.2 121.2L288.9 120.7ZM289.1 120.7L289.8 120.7L289.6 120.2ZM287.0 147.7L287.7 147.7L287.4 147.2ZM259.9 123.2L260.6 123.2L260.3 122.7ZM261.0 126.6L261.7 126.5L261.4 126.1ZM268.0 136.3L268.7 136.2L268.4 135.8ZM268.8 138.5L269.5 138.4L269.2 137.9ZM267.3 161.8L268.0 161.7L267.8 161.3ZM272.4 170.9L273.1 170.8L272.8 170.4ZM283.4 164.3L284.1 164.3L283.8 163.8ZM280.2 164.3L281.0 164.3L280.7 163.8ZM299.9 178.5L300.6 178.5L300.4 178.0ZM314.3 184.5L315.0 184.5L314.8 184.0ZM322.8 184.2L323.5 184.1L323.2 183.7ZM324.3 183.9L325.0 183.8L324.7 183.3ZM319.4 188.6L320.1 188.5L319.8 188.1ZM330.6 182.4L331.3 182.3L331.1 181.8ZM319.4 167.1L320.1 167.0L319.8 166.6ZM310.3 159.2L311.0 159.2L310.7 158.7ZM312.4 161.6L313.1 161.5L312.8 161.1ZM320.2 139.4L321.0 139.4L320.7 138.9ZM319.4 134.3L320.1 134.3L319.8 133.8ZM322.8 146.7L323.5 146.6L323.2 146.1ZM320.9 143.6L321.6 143.6L321.3 143.1ZM321.7 138.7L322.5 138.6L322.2 138.2ZM324.9 141.5L325.6 141.5L325.3 141.0ZM317.5 143.0L318.2 143.0L317.9 142.5ZM309.0 149.2L309.7 149.2L309.5 148.7ZM315.0 143.9L315.7 143.8L315.4 143.4ZM318.6 124.6L319.3 124.5L319.0 124.0ZM319.4 124.1L320.1 124.1L319.8 123.6ZM312.2 151.4L312.9 151.3L312.6 150.9ZM314.1 155.8L314.8 155.8L314.5 155.3ZM346.2 150.4L346.9 150.4L346.6 149.9ZM268.6 138.7L269.3 138.6L269.0 138.2ZM269.0 141.1L269.7 141.0L269.4 140.5ZM268.8 143.0L269.5 143.0L269.2 142.5ZM268.4 145.4L269.1 145.3L268.8 144.9ZM259.1 136.1L259.8 136.0L259.5 135.5ZM259.5 134.3L260.2 134.3L259.9 133.8ZM259.5 125.7L260.2 125.7L259.9 125.2ZM272.3 152.2L273.0 152.2L272.7 151.7ZM273.0 145.5L273.8 145.4L273.5 145.0ZM292.3 133.2L293.0 133.2L292.7 132.7ZM291.9 143.9L292.6 143.8L292.3 143.4ZM273.6 154.8L274.3 154.7L274.0 154.3ZM279.4 153.9L280.1 153.9L279.8 153.4ZM305.2 155.0L305.9 154.9L305.7 154.5ZM309.5 150.8L310.2 150.8L309.9 150.3ZM346.1 168.1L346.8 168.1L346.5 167.6ZM347.1 168.5L347.9 168.5L347.6 168.0ZM337.8 167.5L338.5 167.5L338.3 167.0ZM335.5 167.1L336.2 167.0L335.9 166.6ZM331.5 166.3L332.2 166.3L331.9 165.8ZM329.4 170.1L330.1 170.1L329.8 169.6ZM335.5 172.6L336.2 172.5L335.9 172.1ZM342.1 177.9L342.8 177.8L342.5 177.4ZM346.3 179.2L347.0 179.1L346.7 178.6ZM328.1 183.4L328.8 183.4L328.5 182.9ZM355.2 168.3L355.9 168.3L355.6 167.8Z" fill="#1a6fe8" stroke="#1a6fe8" stroke-width="0.7" stroke-linejoin="round"/>
<path d="M166.1 191.6L168.6 199.2L167.1 202.5L165.4 207.0L163.3 213.8L161.2 220.7L157.4 222.1L154.4 218.4L153.4 213.8L155.7 209.2L154.8 203.6L156.5 200.8L159.7 199.7L162.9 197.0L165.0 193.8Z" fill="#8077af" stroke="#1a6fe8" stroke-width="0.55" stroke-linejoin="round"/>
<path d="M153.3 190.3L153.7 190.3L153.6 191.4ZM155.4 191.8L155.9 191.9L155.7 192.4ZM157.1 193.1L157.5 193.2L157.3 193.7ZM144.7 178.2L145.0 178.2L145.4 179.6L144.9 179.6ZM145.6 176.4L146.1 176.6L145.7 177.4ZM145.6 182.4L146.2 182.6L145.7 183.0ZM146.0 132.6L146.7 132.5L146.5 132.0ZM146.4 131.9L147.2 131.9L146.9 131.4ZM145.8 132.1L146.5 132.1L146.2 131.6ZM140.3 121.2L141.0 121.2L140.7 120.7ZM147.3 192.7L148.0 192.6L147.7 192.2ZM159.1 186.2L159.9 186.2L159.6 185.7ZM178.8 176.1L179.6 176.0L179.3 175.6ZM163.6 194.9L164.3 194.8L164.0 194.3ZM167.0 202.8L167.7 202.7L167.4 202.2Z" fill="#1a6fe8" stroke="#1a6fe8" stroke-width="0.7" stroke-linejoin="round"/>
<g clip-path="url(#ngc)"><path d="M339.0 167.7L342.2 166.8L345.4 167.7L345.8 171.3L347.5 173.0L350.7 170.7L353.8 169.4L360.2 171.5L367.6 174.3L370.8 176.6L372.9 180.9L370.8 184.1L365.5 183.4L364.4 185.6L360.2 185.3L357.0 183.2L353.8 183.8L355.8 181.3L353.8 177.7L348.6 175.3L344.3 174.1L342.8 174.7L341.1 172.1L345.0 171.1L341.8 170.7L339.0 169.0Z" fill="#fee8a2" stroke="#1a6fe8" stroke-width="0.55" stroke-linejoin="round"/></g>
<path d="M360.2 171.5L360.2 185.3" stroke="#a9b9c9" stroke-width="0.4"/>
<rect x="75.30" y="54.10" width="4.56" height="9.70" fill="#8ed645" stroke="#6d6a66" stroke-width="0.5"/><rect x="79.86" y="54.00" width="4.56" height="9.80" fill="#14b878" stroke="#6d6a66" stroke-width="0.5"/><rect x="84.42" y="53.90" width="4.56" height="9.90" fill="#12938a" stroke="#6d6a66" stroke-width="0.5"/><rect x="88.98" y="53.90" width="4.56" height="9.90" fill="#0c6a82" stroke="#6d6a66" stroke-width="0.5"/><rect x="93.54" y="53.80" width="4.56" height="10.00" fill="#2d4555" stroke="#6d6a66" stroke-width="0.5"/>
<rect x="165.10" y="88.30" width="4.54" height="4.40" fill="#8ed645" stroke="#6d6a66" stroke-width="0.5"/><rect x="169.64" y="88.20" width="4.54" height="4.50" fill="#14b878" stroke="#6d6a66" stroke-width="0.5"/><rect x="174.18" y="88.10" width="4.54" height="4.60" fill="#12938a" stroke="#6d6a66" stroke-width="0.5"/><rect x="178.72" y="88.00" width="4.54" height="4.70" fill="#0c6a82" stroke="#6d6a66" stroke-width="0.5"/><rect x="183.26" y="87.90" width="4.54" height="4.80" fill="#2d4555" stroke="#6d6a66" stroke-width="0.5"/>
<rect x="219.50" y="111.30" width="4.54" height="5.50" fill="#8ed645" stroke="#6d6a66" stroke-width="0.5"/><rect x="224.04" y="111.20" width="4.54" height="5.60" fill="#14b878" stroke="#6d6a66" stroke-width="0.5"/><rect x="228.58" y="111.10" width="4.54" height="5.70" fill="#12938a" stroke="#6d6a66" stroke-width="0.5"/><rect x="233.12" y="111.10" width="4.54" height="5.70" fill="#0c6a82" stroke="#6d6a66" stroke-width="0.5"/><rect x="237.66" y="111.00" width="4.54" height="5.80" fill="#2d4555" stroke="#6d6a66" stroke-width="0.5"/>
<rect x="291.90" y="137.30" width="4.58" height="30.70" fill="#8ed645" stroke="#6d6a66" stroke-width="0.5"/><rect x="296.48" y="136.10" width="4.58" height="31.90" fill="#14b878" stroke="#6d6a66" stroke-width="0.5"/><rect x="301.06" y="136.00" width="4.58" height="32.00" fill="#12938a" stroke="#6d6a66" stroke-width="0.5"/><rect x="305.64" y="136.00" width="4.58" height="32.00" fill="#0c6a82" stroke="#6d6a66" stroke-width="0.5"/><rect x="310.22" y="135.90" width="4.58" height="32.10" fill="#2d4555" stroke="#6d6a66" stroke-width="0.5"/>
<rect x="130.30" y="160.60" width="4.68" height="5.20" fill="#8ed645" stroke="#6d6a66" stroke-width="0.5"/><rect x="134.98" y="160.50" width="4.68" height="5.30" fill="#14b878" stroke="#6d6a66" stroke-width="0.5"/><rect x="139.66" y="160.40" width="4.68" height="5.40" fill="#12938a" stroke="#6d6a66" stroke-width="0.5"/><rect x="144.34" y="160.40" width="4.68" height="5.40" fill="#0c6a82" stroke="#6d6a66" stroke-width="0.5"/><rect x="149.02" y="160.30" width="4.68" height="5.50" fill="#2d4555" stroke="#6d6a66" stroke-width="0.5"/>
<text x="42" y="104.8" font-size="7.8" stroke="#111" stroke-width="0.18" >the Mediterranean coast</text>
<text x="148.7" y="120.8" font-size="7.8" stroke="#111" stroke-width="0.18" >West Asia</text>
<text x="196.6" y="105.3" font-size="7.8" stroke="#111" stroke-width="0.18" >South Asia</text>
<text x="329.3" y="132.3" font-size="7.8" stroke="#111" stroke-width="0.18" >Southeast</text>
<text x="329.3" y="141.5" font-size="7.8" stroke="#111" stroke-width="0.18" >Asia</text>
<text x="130.5" y="184.8" font-size="7.8" stroke="#111" stroke-width="0.18" >Southeast</text>
<text x="130.5" y="194.0" font-size="7.8" stroke="#111" stroke-width="0.18" >Africa</text>
<text x="36.4" y="212.9" font-size="10.3" stroke="#111" stroke-width="0.18" font-weight="bold">Legend</text>
<rect x="36.4" y="220.7" width="18.9" height="9.5" fill="#8ed645" stroke="#8a949c" stroke-width="0.4"/><text x="59.5" y="228.2" font-size="6.6" stroke="#111" stroke-width="0.18" >1990</text>
<rect x="36.4" y="232.3" width="18.9" height="9.5" fill="#14b878" stroke="#8a949c" stroke-width="0.4"/><text x="59.5" y="239.8" font-size="6.6" stroke="#111" stroke-width="0.18" >2000</text>
<rect x="36.4" y="243.9" width="18.9" height="9.5" fill="#12938a" stroke="#8a949c" stroke-width="0.4"/><text x="59.5" y="251.4" font-size="6.6" stroke="#111" stroke-width="0.18" >2010</text>
<rect x="36.4" y="255.5" width="18.9" height="9.5" fill="#0c6a82" stroke="#8a949c" stroke-width="0.4"/><text x="59.5" y="263.0" font-size="6.6" stroke="#111" stroke-width="0.18" >2015</text>
<rect x="36.4" y="267.1" width="18.9" height="9.5" fill="#2d4555" stroke="#8a949c" stroke-width="0.4"/><text x="59.5" y="274.6" font-size="6.6" stroke="#111" stroke-width="0.18" >2020</text>
<rect x="77.4" y="271.2" width="3.8" height="3.6" fill="#8ed645" stroke="#5b6770" stroke-width="0.3"/><rect x="82.7" y="269.5" width="4.0" height="5.3" fill="#14b878" stroke="#5b6770" stroke-width="0.3"/><rect x="87.9" y="268.0" width="4.0" height="6.8" fill="#12938a" stroke="#5b6770" stroke-width="0.3"/><rect x="93.6" y="264.9" width="3.8" height="9.9" fill="#0c6a82" stroke="#5b6770" stroke-width="0.3"/><rect x="99.0" y="255.5" width="4.3" height="19.3" fill="#2d4555" stroke="#5b6770" stroke-width="0.3"/><path d="M105.8 255.5V274.8" stroke="#333" stroke-width="0.85"/>
<text x="107.8" y="258.3" font-size="4.7">11×10<tspan dy="-1.9" font-size="2.8">3</tspan><tspan dy="1.9">km</tspan></text>
<text x="107.8" y="275.2" font-size="4.7" stroke="#111" stroke-width="0.18" >0</text>
<path d="M120.5 270.2H138.8" stroke="#2d8cf0" stroke-width="1"/>
<text x="142" y="272.4" font-size="8" stroke="#111" stroke-width="0.18" >coastline</text>
<text x="297.4" y="243.5" font-size="7.2" text-anchor="middle" stroke="#000" stroke-width="0.4" fill="#000">N</text><path d="M297.5 246.4L303.0 263.0L297.2 257.5Z" fill="none" stroke="#000" stroke-width="0.6" stroke-linejoin="miter"/><path d="M297.5 246.4L291.9 263.0L297.2 257.5Z" fill="#000" stroke="#000" stroke-width="0.6"/>
<rect x="241.8" y="272.2" width="19.7" height="3.2" fill="#000"/><rect x="261.5" y="272.5" width="18.4" height="2.6" fill="#fff" stroke="#000" stroke-width="0.6"/><rect x="279.9" y="272.2" width="38" height="3.2" fill="#000"/>
<text x="241.8" y="269.8" font-size="6.4" stroke="#111" stroke-width="0.18" text-anchor="middle">0</text>
<text x="261.5" y="269.8" font-size="6.4" stroke="#111" stroke-width="0.18" text-anchor="middle">1000</text>
<text x="279.9" y="269.8" font-size="6.4" stroke="#111" stroke-width="0.18" text-anchor="middle">2000</text>
<text x="318.8" y="269.8" font-size="6.4" stroke="#111" stroke-width="0.18" text-anchor="middle">4000</text>
<text x="318.8" y="275.6" font-size="6.2" stroke="#111" stroke-width="0.18" >km</text>
</g>
<rect x="30.2" y="13.7" width="336.7" height="265.40000000000003" fill="none" stroke="#3a444c" stroke-width="1.25"/>
<text x="61.7" y="289.0" font-size="6.6" stroke="#111" stroke-width="0.18" text-anchor="middle">0°</text>
<text x="125.2" y="289.0" font-size="6.6" stroke="#111" stroke-width="0.18" text-anchor="middle">30°E</text>
<text x="188.7" y="289.0" font-size="6.6" stroke="#111" stroke-width="0.18" text-anchor="middle">60°E</text>
<text x="252.2" y="289.0" font-size="6.6" stroke="#111" stroke-width="0.18" text-anchor="middle">90°E</text>
<text x="315.7" y="289.0" font-size="6.6" stroke="#111" stroke-width="0.18" text-anchor="middle">120°E</text>
<text x="26.0" y="102.4" font-size="6.6" stroke="#111" stroke-width="0.18" text-anchor="end">30°N</text>
<text x="26.0" y="168.5" font-size="6.6" stroke="#111" stroke-width="0.18" text-anchor="end">0°</text>
<text x="26.0" y="234.5" font-size="6.6" stroke="#111" stroke-width="0.18" text-anchor="end">30°S</text>
<path d="M61.7 13.7v-3.2M61.7 279.1v3.2M125.2 13.7v-3.2M125.2 279.1v3.2M188.7 13.7v-3.2M188.7 279.1v3.2M252.2 13.7v-3.2M252.2 279.1v3.2M315.7 13.7v-3.2M315.7 279.1v3.2M30.2 100.1h-3.2M366.9 100.1h3.2M30.2 166.2h-3.2M366.9 166.2h3.2M30.2 232.2h-3.2M366.9 232.2h3.2" stroke="#111" stroke-width="0.8" fill="none"/>
<text x="7.8" y="19.4" font-size="11.7" stroke="#111" stroke-width="0.18" >(a)</text>
<text x="13.1" y="313.4" font-size="11.7" stroke="#111" stroke-width="0.18" >(b)</text>
<rect x="68.51" y="512.75" width="12.55" height="8.05" fill="#8bbbc5" stroke="#4a7886" stroke-width="0.5"/><rect x="81.06" y="365.17" width="12.55" height="155.63" fill="#4db8d6" stroke="#2a8cab" stroke-width="0.5"/><rect x="93.62" y="357.36" width="12.55" height="163.44" fill="#2f4a56" stroke="#1a2b33" stroke-width="0.5"/><path d="M87.3 520.8v3" stroke="#222" stroke-width="0.7"/><text x="87.3" y="532.0" font-size="6.3" stroke="#111" stroke-width="0.18" text-anchor="middle">1990</text>
<rect x="115.59" y="510.99" width="12.55" height="9.81" fill="#8bbbc5" stroke="#4a7886" stroke-width="0.5"/><rect x="128.14" y="362.57" width="12.55" height="158.23" fill="#4db8d6" stroke="#2a8cab" stroke-width="0.5"/><rect x="140.70" y="353.09" width="12.55" height="167.71" fill="#2f4a56" stroke="#1a2b33" stroke-width="0.5"/><path d="M134.4 520.8v3" stroke="#222" stroke-width="0.7"/><text x="134.4" y="532.0" font-size="6.3" stroke="#111" stroke-width="0.18" text-anchor="middle">2000</text>
<rect x="162.67" y="508.20" width="12.55" height="12.60" fill="#8bbbc5" stroke="#4a7886" stroke-width="0.5"/><rect x="175.22" y="363.04" width="12.55" height="157.76" fill="#4db8d6" stroke="#2a8cab" stroke-width="0.5"/><rect x="187.78" y="350.72" width="12.55" height="170.08" fill="#2f4a56" stroke="#1a2b33" stroke-width="0.5"/><path d="M181.5 520.8v3" stroke="#222" stroke-width="0.7"/><text x="181.5" y="532.0" font-size="6.3" stroke="#111" stroke-width="0.18" text-anchor="middle">2010</text>
<rect x="209.75" y="507.06" width="12.55" height="13.74" fill="#8bbbc5" stroke="#4a7886" stroke-width="0.5"/><rect x="222.30" y="366.12" width="12.55" height="154.68" fill="#4db8d6" stroke="#2a8cab" stroke-width="0.5"/><rect x="234.86" y="352.86" width="12.55" height="167.94" fill="#2f4a56" stroke="#1a2b33" stroke-width="0.5"/><path d="M228.6 520.8v3" stroke="#222" stroke-width="0.7"/><text x="228.6" y="532.0" font-size="6.3" stroke="#111" stroke-width="0.18" text-anchor="middle">2015</text>
<rect x="256.83" y="506.35" width="12.55" height="14.45" fill="#8bbbc5" stroke="#4a7886" stroke-width="0.5"/><rect x="269.38" y="369.91" width="12.55" height="150.89" fill="#4db8d6" stroke="#2a8cab" stroke-width="0.5"/><rect x="281.94" y="355.70" width="12.55" height="165.10" fill="#2f4a56" stroke="#1a2b33" stroke-width="0.5"/><path d="M275.7 520.8v3" stroke="#222" stroke-width="0.7"/><text x="275.7" y="532.0" font-size="6.3" stroke="#111" stroke-width="0.18" text-anchor="middle">2020</text>

<rect x="63.8" y="331.3" width="235.39999999999998" height="189.49999999999994" fill="none" stroke="#333" stroke-width="1"/>
<path d="M63.8 520.8h-3.3" stroke="#222" stroke-width="0.7"/><text x="57.5" y="522.9" font-size="6.1" stroke="#111" stroke-width="0.18" text-anchor="end">0</text>
<path d="M63.8 497.1h-3.3" stroke="#222" stroke-width="0.7"/><text x="57.5" y="499.3" font-size="6.1" stroke="#111" stroke-width="0.18" text-anchor="end">5</text>
<path d="M63.8 473.4h-3.3" stroke="#222" stroke-width="0.7"/><text x="57.5" y="475.6" font-size="6.1" stroke="#111" stroke-width="0.18" text-anchor="end">10</text>
<path d="M63.8 449.7h-3.3" stroke="#222" stroke-width="0.7"/><text x="57.5" y="451.9" font-size="6.1" stroke="#111" stroke-width="0.18" text-anchor="end">15</text>
<path d="M63.8 426.0h-3.3" stroke="#222" stroke-width="0.7"/><text x="57.5" y="428.2" font-size="6.1" stroke="#111" stroke-width="0.18" text-anchor="end">20</text>
<path d="M63.8 402.4h-3.3" stroke="#222" stroke-width="0.7"/><text x="57.5" y="404.5" font-size="6.1" stroke="#111" stroke-width="0.18" text-anchor="end">25</text>
<path d="M63.8 378.7h-3.3" stroke="#222" stroke-width="0.7"/><text x="57.5" y="380.8" font-size="6.1" stroke="#111" stroke-width="0.18" text-anchor="end">30</text>
<path d="M63.8 355.0h-3.3" stroke="#222" stroke-width="0.7"/><text x="57.5" y="357.1" font-size="6.1" stroke="#111" stroke-width="0.18" text-anchor="end">35</text>
<path d="M63.8 331.3h-3.3" stroke="#222" stroke-width="0.7"/><text x="57.5" y="333.4" font-size="6.1" stroke="#111" stroke-width="0.18" text-anchor="end">40</text>

<text x="181.3" y="543.8" font-size="8" stroke="#111" stroke-width="0.18" text-anchor="middle">Year</text>
<text transform="translate(36.8 426.2) rotate(-90)" font-size="8" text-anchor="middle">Coastline length(10<tspan dy="-3" font-size="5.2">4</tspan><tspan dy="3">km)</tspan></text>
<rect x="318.7" y="483.2" width="9.4" height="5.5" fill="#8bbbc5" stroke="#4a7886" stroke-width="0.5"/><text x="334.7" y="488.6" font-size="8" stroke="#111" stroke-width="0.18" >Artificial</text>
<rect x="318.7" y="493.1" width="9.4" height="5.5" fill="#4db8d6" stroke="#2a8cab" stroke-width="0.5"/><text x="334.7" y="498.5" font-size="8" stroke="#111" stroke-width="0.18" >Natural</text>
<rect x="318.7" y="503.0" width="9.4" height="5.5" fill="#2f4a56" stroke="#1a2b33" stroke-width="0.5"/><text x="334.7" y="508.4" font-size="8" stroke="#111" stroke-width="0.18" >Total</text>
</svg>
</body></html>
